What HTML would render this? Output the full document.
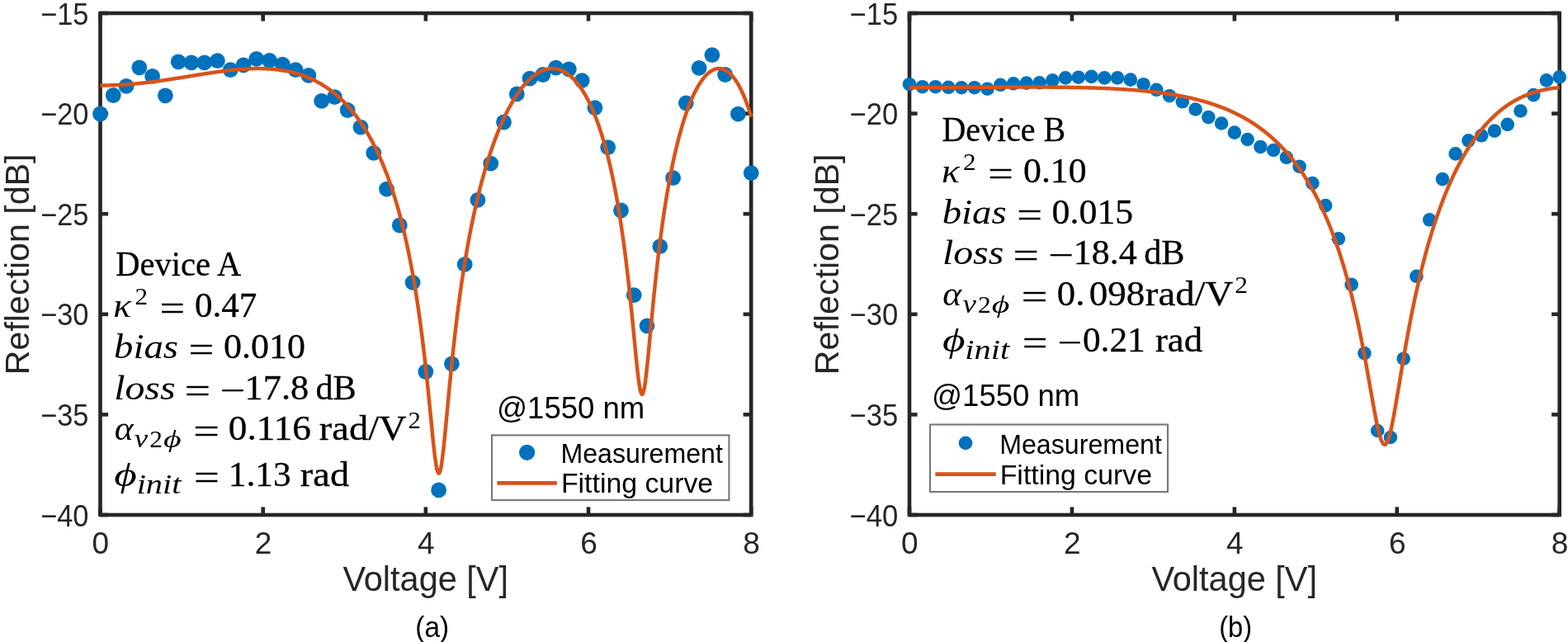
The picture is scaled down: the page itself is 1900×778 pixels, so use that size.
<!DOCTYPE html>
<html><head><meta charset="utf-8"><title>Reflection vs Voltage</title>
<style>html,body{margin:0;padding:0;background:#fff;width:1900px;height:778px;overflow:hidden}svg{display:block}</style>
</head><body>
<svg width="1900" height="778" viewBox="0 0 1900 778">
<rect width="1900" height="778" fill="#fff"/>
<g stroke="#262626" stroke-width="4.6"><line x1="121.50" y1="624.00" x2="121.50" y2="614.40"/><line x1="121.50" y1="16.00" x2="121.50" y2="25.60"/><line x1="318.68" y1="624.00" x2="318.68" y2="614.40"/><line x1="318.68" y1="16.00" x2="318.68" y2="25.60"/><line x1="515.85" y1="624.00" x2="515.85" y2="614.40"/><line x1="515.85" y1="16.00" x2="515.85" y2="25.60"/><line x1="713.03" y1="624.00" x2="713.03" y2="614.40"/><line x1="713.03" y1="16.00" x2="713.03" y2="25.60"/><line x1="910.20" y1="624.00" x2="910.20" y2="614.40"/><line x1="910.20" y1="16.00" x2="910.20" y2="25.60"/><line x1="121.50" y1="16.00" x2="131.10" y2="16.00"/><line x1="910.20" y1="16.00" x2="900.60" y2="16.00"/><line x1="121.50" y1="137.60" x2="131.10" y2="137.60"/><line x1="910.20" y1="137.60" x2="900.60" y2="137.60"/><line x1="121.50" y1="259.20" x2="131.10" y2="259.20"/><line x1="910.20" y1="259.20" x2="900.60" y2="259.20"/><line x1="121.50" y1="380.80" x2="131.10" y2="380.80"/><line x1="910.20" y1="380.80" x2="900.60" y2="380.80"/><line x1="121.50" y1="502.40" x2="131.10" y2="502.40"/><line x1="910.20" y1="502.40" x2="900.60" y2="502.40"/><line x1="121.50" y1="624.00" x2="131.10" y2="624.00"/><line x1="910.20" y1="624.00" x2="900.60" y2="624.00"/></g><rect x="121.50" y="16.00" width="788.70" height="608.00" fill="none" stroke="#262626" stroke-width="4.6"/><g font-family="Liberation Sans, sans-serif" font-size="37" fill="#262626"><text x="121.90" y="670.6" text-anchor="middle">0</text><text x="319.07" y="670.6" text-anchor="middle">2</text><text x="516.25" y="670.6" text-anchor="middle">4</text><text x="713.43" y="670.6" text-anchor="middle">6</text><text x="910.60" y="670.6" text-anchor="middle">8</text></g>
<g stroke="#262626" stroke-width="4.6"><line x1="1102.00" y1="624.00" x2="1102.00" y2="614.40"/><line x1="1102.00" y1="16.00" x2="1102.00" y2="25.60"/><line x1="1298.92" y1="624.00" x2="1298.92" y2="614.40"/><line x1="1298.92" y1="16.00" x2="1298.92" y2="25.60"/><line x1="1495.85" y1="624.00" x2="1495.85" y2="614.40"/><line x1="1495.85" y1="16.00" x2="1495.85" y2="25.60"/><line x1="1692.78" y1="624.00" x2="1692.78" y2="614.40"/><line x1="1692.78" y1="16.00" x2="1692.78" y2="25.60"/><line x1="1889.70" y1="624.00" x2="1889.70" y2="614.40"/><line x1="1889.70" y1="16.00" x2="1889.70" y2="25.60"/><line x1="1102.00" y1="16.00" x2="1111.60" y2="16.00"/><line x1="1889.70" y1="16.00" x2="1880.10" y2="16.00"/><line x1="1102.00" y1="137.60" x2="1111.60" y2="137.60"/><line x1="1889.70" y1="137.60" x2="1880.10" y2="137.60"/><line x1="1102.00" y1="259.20" x2="1111.60" y2="259.20"/><line x1="1889.70" y1="259.20" x2="1880.10" y2="259.20"/><line x1="1102.00" y1="380.80" x2="1111.60" y2="380.80"/><line x1="1889.70" y1="380.80" x2="1880.10" y2="380.80"/><line x1="1102.00" y1="502.40" x2="1111.60" y2="502.40"/><line x1="1889.70" y1="502.40" x2="1880.10" y2="502.40"/><line x1="1102.00" y1="624.00" x2="1111.60" y2="624.00"/><line x1="1889.70" y1="624.00" x2="1880.10" y2="624.00"/></g><rect x="1102.00" y="16.00" width="787.70" height="608.00" fill="none" stroke="#262626" stroke-width="4.6"/><g font-family="Liberation Sans, sans-serif" font-size="37" fill="#262626"><text x="1102.40" y="670.6" text-anchor="middle">0</text><text x="1299.33" y="670.6" text-anchor="middle">2</text><text x="1496.25" y="670.6" text-anchor="middle">4</text><text x="1693.18" y="670.6" text-anchor="middle">6</text><text x="1890.10" y="670.6" text-anchor="middle">8</text></g>
<g fill="#0072BD"><circle cx="121.50" cy="138.00" r="9.4"/><circle cx="137.27" cy="115.50" r="9.4"/><circle cx="153.05" cy="104.40" r="9.4"/><circle cx="168.82" cy="81.80" r="9.4"/><circle cx="184.60" cy="92.40" r="9.4"/><circle cx="200.37" cy="115.80" r="9.4"/><circle cx="216.14" cy="74.80" r="9.4"/><circle cx="231.92" cy="75.90" r="9.4"/><circle cx="247.69" cy="75.90" r="9.4"/><circle cx="263.47" cy="73.70" r="9.4"/><circle cx="279.24" cy="84.70" r="9.4"/><circle cx="295.01" cy="78.80" r="9.4"/><circle cx="310.79" cy="71.40" r="9.4"/><circle cx="326.56" cy="73.40" r="9.4"/><circle cx="342.34" cy="78.10" r="9.4"/><circle cx="358.11" cy="84.70" r="9.4"/><circle cx="373.88" cy="91.40" r="9.4"/><circle cx="389.66" cy="122.40" r="9.4"/><circle cx="405.43" cy="117.70" r="9.4"/><circle cx="421.21" cy="133.50" r="9.4"/><circle cx="436.98" cy="154.20" r="9.4"/><circle cx="452.75" cy="185.40" r="9.4"/><circle cx="468.53" cy="229.10" r="9.4"/><circle cx="484.30" cy="273.00" r="9.4"/><circle cx="500.08" cy="342.30" r="9.4"/><circle cx="515.85" cy="450.50" r="9.4"/><circle cx="531.62" cy="593.90" r="9.4"/><circle cx="547.40" cy="440.80" r="9.4"/><circle cx="563.17" cy="320.30" r="9.4"/><circle cx="578.95" cy="242.40" r="9.4"/><circle cx="594.72" cy="198.10" r="9.4"/><circle cx="610.49" cy="148.00" r="9.4"/><circle cx="626.27" cy="113.90" r="9.4"/><circle cx="642.04" cy="95.20" r="9.4"/><circle cx="657.82" cy="90.50" r="9.4"/><circle cx="673.59" cy="82.10" r="9.4"/><circle cx="689.36" cy="83.80" r="9.4"/><circle cx="705.14" cy="97.60" r="9.4"/><circle cx="720.91" cy="130.70" r="9.4"/><circle cx="736.69" cy="178.60" r="9.4"/><circle cx="752.46" cy="255.00" r="9.4"/><circle cx="768.23" cy="357.60" r="9.4"/><circle cx="784.01" cy="394.80" r="9.4"/><circle cx="799.78" cy="298.70" r="9.4"/><circle cx="815.56" cy="215.70" r="9.4"/><circle cx="831.33" cy="124.80" r="9.4"/><circle cx="847.10" cy="82.40" r="9.4"/><circle cx="862.88" cy="66.70" r="9.4"/><circle cx="878.65" cy="90.50" r="9.4"/><circle cx="894.43" cy="138.20" r="9.4"/><circle cx="910.20" cy="209.60" r="9.4"/></g>
<path d="M121.50 103.52 L121.99 103.52 L122.49 103.52 L122.98 103.52 L123.47 103.52 L123.96 103.51 L124.46 103.51 L124.95 103.51 L125.44 103.50 L125.94 103.50 L126.43 103.49 L126.92 103.49 L127.42 103.48 L127.91 103.47 L128.40 103.46 L128.89 103.46 L129.39 103.45 L129.88 103.44 L130.37 103.43 L130.87 103.42 L131.36 103.41 L131.85 103.40 L132.34 103.38 L132.84 103.37 L133.33 103.36 L133.82 103.35 L134.32 103.33 L134.81 103.32 L135.30 103.30 L135.80 103.28 L136.29 103.27 L136.78 103.25 L137.27 103.23 L137.77 103.22 L138.26 103.20 L138.75 103.18 L139.25 103.16 L139.74 103.14 L140.23 103.12 L140.72 103.10 L141.22 103.07 L141.71 103.05 L142.20 103.03 L142.70 103.01 L143.19 102.98 L143.68 102.96 L144.18 102.93 L144.67 102.91 L145.16 102.88 L145.65 102.85 L146.15 102.83 L146.64 102.80 L147.13 102.77 L147.63 102.74 L148.12 102.71 L148.61 102.68 L149.10 102.65 L149.60 102.62 L150.09 102.59 L150.58 102.56 L151.08 102.52 L151.57 102.49 L152.06 102.46 L152.56 102.42 L153.05 102.39 L153.54 102.35 L154.03 102.32 L154.53 102.28 L155.02 102.25 L155.51 102.21 L156.01 102.17 L156.50 102.13 L156.99 102.10 L157.48 102.06 L157.98 102.02 L158.47 101.98 L158.96 101.94 L159.46 101.90 L159.95 101.85 L160.44 101.81 L160.94 101.77 L161.43 101.73 L161.92 101.68 L162.41 101.64 L162.91 101.59 L163.40 101.55 L163.89 101.50 L164.39 101.46 L164.88 101.41 L165.37 101.37 L165.86 101.32 L166.36 101.27 L166.85 101.22 L167.34 101.17 L167.84 101.13 L168.33 101.08 L168.82 101.03 L169.31 100.98 L169.81 100.93 L170.30 100.87 L170.79 100.82 L171.29 100.77 L171.78 100.72 L172.27 100.66 L172.77 100.61 L173.26 100.56 L173.75 100.50 L174.24 100.45 L174.74 100.39 L175.23 100.34 L175.72 100.28 L176.22 100.23 L176.71 100.17 L177.20 100.11 L177.69 100.05 L178.19 100.00 L178.68 99.94 L179.17 99.88 L179.67 99.82 L180.16 99.76 L180.65 99.70 L181.15 99.64 L181.64 99.58 L182.13 99.52 L182.62 99.46 L183.12 99.40 L183.61 99.33 L184.10 99.27 L184.60 99.21 L185.09 99.14 L185.58 99.08 L186.07 99.02 L186.57 98.95 L187.06 98.89 L187.55 98.82 L188.05 98.76 L188.54 98.69 L189.03 98.63 L189.53 98.56 L190.02 98.49 L190.51 98.43 L191.00 98.36 L191.50 98.29 L191.99 98.22 L192.48 98.15 L192.98 98.09 L193.47 98.02 L193.96 97.95 L194.45 97.88 L194.95 97.81 L195.44 97.74 L195.93 97.67 L196.43 97.60 L196.92 97.53 L197.41 97.45 L197.91 97.38 L198.40 97.31 L198.89 97.24 L199.38 97.17 L199.88 97.09 L200.37 97.02 L200.86 96.95 L201.36 96.88 L201.85 96.80 L202.34 96.73 L202.83 96.65 L203.33 96.58 L203.82 96.50 L204.31 96.43 L204.81 96.36 L205.30 96.28 L205.79 96.20 L206.29 96.13 L206.78 96.05 L207.27 95.98 L207.76 95.90 L208.26 95.82 L208.75 95.75 L209.24 95.67 L209.74 95.59 L210.23 95.52 L210.72 95.44 L211.21 95.36 L211.71 95.28 L212.20 95.21 L212.69 95.13 L213.19 95.05 L213.68 94.97 L214.17 94.89 L214.67 94.81 L215.16 94.74 L215.65 94.66 L216.14 94.58 L216.64 94.50 L217.13 94.42 L217.62 94.34 L218.12 94.26 L218.61 94.18 L219.10 94.10 L219.59 94.02 L220.09 93.94 L220.58 93.86 L221.07 93.78 L221.57 93.70 L222.06 93.62 L222.55 93.54 L223.05 93.46 L223.54 93.38 L224.03 93.30 L224.52 93.22 L225.02 93.14 L225.51 93.06 L226.00 92.98 L226.50 92.90 L226.99 92.82 L227.48 92.74 L227.97 92.65 L228.47 92.57 L228.96 92.49 L229.45 92.41 L229.95 92.33 L230.44 92.25 L230.93 92.17 L231.43 92.09 L231.92 92.01 L232.41 91.93 L232.90 91.85 L233.40 91.77 L233.89 91.68 L234.38 91.60 L234.88 91.52 L235.37 91.44 L235.86 91.36 L236.35 91.28 L236.85 91.20 L237.34 91.12 L237.83 91.04 L238.33 90.96 L238.82 90.88 L239.31 90.80 L239.81 90.72 L240.30 90.64 L240.79 90.56 L241.28 90.48 L241.78 90.40 L242.27 90.32 L242.76 90.24 L243.26 90.16 L243.75 90.08 L244.24 90.01 L244.73 89.93 L245.23 89.85 L245.72 89.77 L246.21 89.69 L246.71 89.61 L247.20 89.54 L247.69 89.46 L248.18 89.38 L248.68 89.30 L249.17 89.23 L249.66 89.15 L250.16 89.07 L250.65 89.00 L251.14 88.92 L251.64 88.84 L252.13 88.77 L252.62 88.69 L253.11 88.62 L253.61 88.54 L254.10 88.47 L254.59 88.39 L255.09 88.32 L255.58 88.24 L256.07 88.17 L256.56 88.10 L257.06 88.02 L257.55 87.95 L258.04 87.88 L258.54 87.80 L259.03 87.73 L259.52 87.66 L260.02 87.59 L260.51 87.52 L261.00 87.45 L261.49 87.38 L261.99 87.31 L262.48 87.24 L262.97 87.17 L263.47 87.10 L263.96 87.03 L264.45 86.96 L264.94 86.89 L265.44 86.82 L265.93 86.76 L266.42 86.69 L266.92 86.62 L267.41 86.56 L267.90 86.49 L268.40 86.43 L268.89 86.36 L269.38 86.30 L269.87 86.23 L270.37 86.17 L270.86 86.11 L271.35 86.04 L271.85 85.98 L272.34 85.92 L272.83 85.86 L273.32 85.80 L273.82 85.74 L274.31 85.68 L274.80 85.62 L275.30 85.56 L275.79 85.50 L276.28 85.44 L276.78 85.39 L277.27 85.33 L277.76 85.27 L278.25 85.22 L278.75 85.16 L279.24 85.11 L279.73 85.05 L280.23 85.00 L280.72 84.95 L281.21 84.90 L281.70 84.84 L282.20 84.79 L282.69 84.74 L283.18 84.69 L283.68 84.64 L284.17 84.60 L284.66 84.55 L285.16 84.50 L285.65 84.45 L286.14 84.41 L286.63 84.36 L287.13 84.32 L287.62 84.27 L288.11 84.23 L288.61 84.19 L289.10 84.14 L289.59 84.10 L290.08 84.06 L290.58 84.02 L291.07 83.98 L291.56 83.95 L292.06 83.91 L292.55 83.87 L293.04 83.83 L293.54 83.80 L294.03 83.76 L294.52 83.73 L295.01 83.70 L295.51 83.66 L296.00 83.63 L296.49 83.60 L296.99 83.57 L297.48 83.54 L297.97 83.51 L298.46 83.49 L298.96 83.46 L299.45 83.43 L299.94 83.41 L300.44 83.38 L300.93 83.36 L301.42 83.34 L301.92 83.32 L302.41 83.30 L302.90 83.28 L303.39 83.26 L303.89 83.24 L304.38 83.22 L304.87 83.20 L305.37 83.19 L305.86 83.18 L306.35 83.16 L306.84 83.15 L307.34 83.14 L307.83 83.13 L308.32 83.12 L308.82 83.11 L309.31 83.10 L309.80 83.09 L310.30 83.09 L310.79 83.08 L311.28 83.08 L311.77 83.08 L312.27 83.08 L312.76 83.08 L313.25 83.08 L313.75 83.08 L314.24 83.08 L314.73 83.09 L315.22 83.09 L315.72 83.10 L316.21 83.10 L316.70 83.11 L317.20 83.12 L317.69 83.13 L318.18 83.14 L318.68 83.16 L319.17 83.17 L319.66 83.18 L320.15 83.20 L320.65 83.22 L321.14 83.24 L321.63 83.26 L322.13 83.28 L322.62 83.30 L323.11 83.32 L323.60 83.35 L324.10 83.37 L324.59 83.40 L325.08 83.43 L325.58 83.46 L326.07 83.49 L326.56 83.52 L327.05 83.56 L327.55 83.59 L328.04 83.63 L328.53 83.67 L329.03 83.70 L329.52 83.74 L330.01 83.79 L330.51 83.83 L331.00 83.87 L331.49 83.92 L331.98 83.97 L332.48 84.01 L332.97 84.06 L333.46 84.12 L333.96 84.17 L334.45 84.22 L334.94 84.28 L335.43 84.34 L335.93 84.39 L336.42 84.45 L336.91 84.52 L337.41 84.58 L337.90 84.64 L338.39 84.71 L338.89 84.78 L339.38 84.85 L339.87 84.92 L340.36 84.99 L340.86 85.06 L341.35 85.14 L341.84 85.22 L342.34 85.29 L342.83 85.37 L343.32 85.46 L343.81 85.54 L344.31 85.63 L344.80 85.71 L345.29 85.80 L345.79 85.89 L346.28 85.98 L346.77 86.08 L347.27 86.17 L347.76 86.27 L348.25 86.37 L348.74 86.47 L349.24 86.57 L349.73 86.67 L350.22 86.78 L350.72 86.89 L351.21 87.00 L351.70 87.11 L352.19 87.22 L352.69 87.34 L353.18 87.45 L353.67 87.57 L354.17 87.69 L354.66 87.81 L355.15 87.94 L355.65 88.07 L356.14 88.19 L356.63 88.32 L357.12 88.46 L357.62 88.59 L358.11 88.73 L358.60 88.86 L359.10 89.00 L359.59 89.15 L360.08 89.29 L360.57 89.44 L361.07 89.58 L361.56 89.73 L362.05 89.89 L362.55 90.04 L363.04 90.20 L363.53 90.36 L364.03 90.52 L364.52 90.68 L365.01 90.84 L365.50 91.01 L366.00 91.18 L366.49 91.35 L366.98 91.53 L367.48 91.70 L367.97 91.88 L368.46 92.06 L368.95 92.24 L369.45 92.43 L369.94 92.62 L370.43 92.81 L370.93 93.00 L371.42 93.19 L371.91 93.39 L372.41 93.59 L372.90 93.79 L373.39 94.00 L373.88 94.20 L374.38 94.41 L374.87 94.62 L375.36 94.84 L375.86 95.05 L376.35 95.27 L376.84 95.49 L377.33 95.72 L377.83 95.94 L378.32 96.17 L378.81 96.40 L379.31 96.64 L379.80 96.88 L380.29 97.12 L380.79 97.36 L381.28 97.60 L381.77 97.85 L382.26 98.10 L382.76 98.35 L383.25 98.61 L383.74 98.87 L384.24 99.13 L384.73 99.39 L385.22 99.66 L385.71 99.93 L386.21 100.20 L386.70 100.48 L387.19 100.76 L387.69 101.04 L388.18 101.32 L388.67 101.61 L389.17 101.90 L389.66 102.20 L390.15 102.49 L390.64 102.79 L391.14 103.09 L391.63 103.40 L392.12 103.71 L392.62 104.02 L393.11 104.34 L393.60 104.65 L394.09 104.98 L394.59 105.30 L395.08 105.63 L395.57 105.96 L396.07 106.29 L396.56 106.63 L397.05 106.97 L397.55 107.32 L398.04 107.67 L398.53 108.02 L399.02 108.37 L399.52 108.73 L400.01 109.09 L400.50 109.46 L401.00 109.82 L401.49 110.20 L401.98 110.57 L402.47 110.95 L402.97 111.33 L403.46 111.72 L403.95 112.11 L404.45 112.51 L404.94 112.90 L405.43 113.30 L405.92 113.71 L406.42 114.12 L406.91 114.53 L407.40 114.95 L407.90 115.37 L408.39 115.79 L408.88 116.22 L409.38 116.65 L409.87 117.09 L410.36 117.53 L410.85 117.98 L411.35 118.43 L411.84 118.88 L412.33 119.34 L412.83 119.80 L413.32 120.26 L413.81 120.73 L414.30 121.21 L414.80 121.68 L415.29 122.17 L415.78 122.65 L416.28 123.15 L416.77 123.64 L417.26 124.14 L417.76 124.65 L418.25 125.16 L418.74 125.67 L419.23 126.19 L419.73 126.71 L420.22 127.24 L420.71 127.78 L421.21 128.31 L421.70 128.86 L422.19 129.40 L422.68 129.96 L423.18 130.51 L423.67 131.08 L424.16 131.64 L424.66 132.22 L425.15 132.80 L425.64 133.38 L426.14 133.97 L426.63 134.56 L427.12 135.16 L427.61 135.76 L428.11 136.37 L428.60 136.99 L429.09 137.61 L429.59 138.23 L430.08 138.86 L430.57 139.50 L431.06 140.14 L431.56 140.79 L432.05 141.45 L432.54 142.11 L433.04 142.77 L433.53 143.45 L434.02 144.12 L434.52 144.81 L435.01 145.50 L435.50 146.19 L435.99 146.90 L436.49 147.60 L436.98 148.32 L437.47 149.04 L437.97 149.77 L438.46 150.50 L438.95 151.24 L439.44 151.99 L439.94 152.74 L440.43 153.51 L440.92 154.27 L441.42 155.05 L441.91 155.83 L442.40 156.62 L442.90 157.41 L443.39 158.22 L443.88 159.03 L444.37 159.84 L444.87 160.67 L445.36 161.50 L445.85 162.34 L446.35 163.19 L446.84 164.04 L447.33 164.90 L447.82 165.77 L448.32 166.65 L448.81 167.54 L449.30 168.43 L449.80 169.34 L450.29 170.25 L450.78 171.17 L451.28 172.09 L451.77 173.03 L452.26 173.98 L452.75 174.93 L453.25 175.89 L453.74 176.86 L454.23 177.84 L454.73 178.83 L455.22 179.83 L455.71 180.84 L456.20 181.85 L456.70 182.88 L457.19 183.92 L457.68 184.96 L458.18 186.02 L458.67 187.09 L459.16 188.16 L459.66 189.25 L460.15 190.34 L460.64 191.45 L461.13 192.57 L461.63 193.70 L462.12 194.84 L462.61 195.99 L463.11 197.15 L463.60 198.32 L464.09 199.50 L464.58 200.70 L465.08 201.91 L465.57 203.13 L466.06 204.36 L466.56 205.60 L467.05 206.86 L467.54 208.12 L468.04 209.40 L468.53 210.70 L469.02 212.00 L469.51 213.32 L470.01 214.66 L470.50 216.00 L470.99 217.36 L471.49 218.74 L471.98 220.13 L472.47 221.53 L472.96 222.95 L473.46 224.38 L473.95 225.82 L474.44 227.29 L474.94 228.76 L475.43 230.26 L475.92 231.76 L476.42 233.29 L476.91 234.83 L477.40 236.39 L477.89 237.96 L478.39 239.55 L478.88 241.16 L479.37 242.79 L479.87 244.43 L480.36 246.10 L480.85 247.78 L481.34 249.48 L481.84 251.20 L482.33 252.94 L482.82 254.69 L483.32 256.47 L483.81 258.27 L484.30 260.09 L484.79 261.93 L485.29 263.80 L485.78 265.68 L486.27 267.59 L486.77 269.52 L487.26 271.47 L487.75 273.44 L488.25 275.44 L488.74 277.47 L489.23 279.52 L489.72 281.59 L490.22 283.69 L490.71 285.82 L491.20 287.97 L491.70 290.15 L492.19 292.36 L492.68 294.59 L493.17 296.86 L493.67 299.15 L494.16 301.48 L494.65 303.83 L495.15 306.22 L495.64 308.64 L496.13 311.09 L496.63 313.57 L497.12 316.09 L497.61 318.64 L498.10 321.23 L498.60 323.85 L499.09 326.51 L499.58 329.21 L500.08 331.95 L500.57 334.73 L501.06 337.54 L501.55 340.40 L502.05 343.30 L502.54 346.24 L503.03 349.23 L503.53 352.26 L504.02 355.33 L504.51 358.46 L505.01 361.63 L505.50 364.85 L505.99 368.11 L506.48 371.43 L506.98 374.80 L507.47 378.23 L507.96 381.71 L508.46 385.24 L508.95 388.83 L509.44 392.47 L509.93 396.18 L510.43 399.94 L510.92 403.77 L511.41 407.65 L511.91 411.60 L512.40 415.61 L512.89 419.68 L513.39 423.82 L513.88 428.02 L514.37 432.29 L514.86 436.62 L515.36 441.02 L515.85 445.48 L516.34 450.01 L516.84 454.60 L517.33 459.25 L517.82 463.96 L518.31 468.73 L518.81 473.55 L519.30 478.42 L519.79 483.33 L520.29 488.29 L520.78 493.27 L521.27 498.28 L521.77 503.30 L522.26 508.33 L522.75 513.34 L523.24 518.32 L523.74 523.26 L524.23 528.14 L524.72 532.93 L525.22 537.60 L525.71 542.14 L526.20 546.51 L526.69 550.68 L527.19 554.61 L527.68 558.26 L528.17 561.62 L528.67 564.62 L529.16 567.25 L529.65 569.47 L530.15 571.25 L530.64 572.56 L531.13 573.38 L531.62 573.71 L532.12 573.53 L532.61 572.84 L533.10 571.65 L533.60 569.99 L534.09 567.86 L534.58 565.29 L535.07 562.32 L535.57 558.99 L536.06 555.31 L536.55 551.34 L537.05 547.10 L537.54 542.63 L538.03 537.97 L538.53 533.15 L539.02 528.20 L539.51 523.14 L540.00 517.99 L540.50 512.79 L540.99 507.55 L541.48 502.28 L541.98 497.00 L542.47 491.73 L542.96 486.48 L543.45 481.25 L543.95 476.05 L544.44 470.90 L544.93 465.79 L545.43 460.73 L545.92 455.73 L546.41 450.78 L546.91 445.90 L547.40 441.08 L547.89 436.32 L548.38 431.62 L548.88 426.99 L549.37 422.43 L549.86 417.93 L550.36 413.50 L550.85 409.13 L551.34 404.83 L551.83 400.59 L552.33 396.41 L552.82 392.30 L553.31 388.24 L553.81 384.25 L554.30 380.32 L554.79 376.44 L555.29 372.63 L555.78 368.87 L556.27 365.16 L556.76 361.51 L557.26 357.92 L557.75 354.37 L558.24 350.88 L558.74 347.43 L559.23 344.04 L559.72 340.69 L560.21 337.39 L560.71 334.14 L561.20 330.93 L561.69 327.76 L562.19 324.64 L562.68 321.57 L563.17 318.53 L563.66 315.53 L564.16 312.58 L564.65 309.66 L565.14 306.78 L565.64 303.94 L566.13 301.13 L566.62 298.36 L567.12 295.63 L567.61 292.93 L568.10 290.27 L568.59 287.63 L569.09 285.04 L569.58 282.47 L570.07 279.93 L570.57 277.43 L571.06 274.95 L571.55 272.51 L572.04 270.09 L572.54 267.71 L573.03 265.35 L573.52 263.02 L574.02 260.71 L574.51 258.43 L575.00 256.18 L575.50 253.96 L575.99 251.76 L576.48 249.58 L576.97 247.43 L577.47 245.30 L577.96 243.20 L578.45 241.12 L578.95 239.07 L579.44 237.03 L579.93 235.02 L580.42 233.03 L580.92 231.06 L581.41 229.11 L581.90 227.19 L582.40 225.28 L582.89 223.40 L583.38 221.53 L583.88 219.69 L584.37 217.86 L584.86 216.05 L585.35 214.27 L585.85 212.50 L586.34 210.75 L586.83 209.01 L587.33 207.30 L587.82 205.60 L588.31 203.92 L588.80 202.26 L589.30 200.61 L589.79 198.99 L590.28 197.37 L590.78 195.78 L591.27 194.20 L591.76 192.63 L592.26 191.09 L592.75 189.55 L593.24 188.04 L593.73 186.54 L594.23 185.05 L594.72 183.58 L595.21 182.12 L595.71 180.68 L596.20 179.25 L596.69 177.84 L597.18 176.44 L597.68 175.06 L598.17 173.68 L598.66 172.33 L599.16 170.98 L599.65 169.65 L600.14 168.33 L600.64 167.03 L601.13 165.74 L601.62 164.46 L602.11 163.19 L602.61 161.94 L603.10 160.70 L603.59 159.47 L604.09 158.26 L604.58 157.05 L605.07 155.86 L605.56 154.68 L606.06 153.52 L606.55 152.36 L607.04 151.22 L607.54 150.09 L608.03 148.97 L608.52 147.86 L609.02 146.76 L609.51 145.67 L610.00 144.60 L610.49 143.53 L610.99 142.48 L611.48 141.44 L611.97 140.41 L612.47 139.39 L612.96 138.38 L613.45 137.38 L613.94 136.39 L614.44 135.41 L614.93 134.44 L615.42 133.48 L615.92 132.54 L616.41 131.60 L616.90 130.67 L617.40 129.76 L617.89 128.85 L618.38 127.95 L618.87 127.07 L619.37 126.19 L619.86 125.32 L620.35 124.47 L620.85 123.62 L621.34 122.78 L621.83 121.95 L622.32 121.14 L622.82 120.33 L623.31 119.53 L623.80 118.74 L624.30 117.96 L624.79 117.19 L625.28 116.42 L625.78 115.67 L626.27 114.93 L626.76 114.19 L627.25 113.47 L627.75 112.75 L628.24 112.04 L628.73 111.35 L629.23 110.66 L629.72 109.98 L630.21 109.31 L630.70 108.64 L631.20 107.99 L631.69 107.35 L632.18 106.71 L632.68 106.08 L633.17 105.46 L633.66 104.86 L634.16 104.25 L634.65 103.66 L635.14 103.08 L635.63 102.50 L636.13 101.94 L636.62 101.38 L637.11 100.83 L637.61 100.29 L638.10 99.76 L638.59 99.24 L639.08 98.72 L639.58 98.21 L640.07 97.72 L640.56 97.23 L641.06 96.75 L641.55 96.27 L642.04 95.81 L642.53 95.35 L643.03 94.91 L643.52 94.47 L644.01 94.04 L644.51 93.61 L645.00 93.20 L645.49 92.79 L645.99 92.40 L646.48 92.01 L646.97 91.62 L647.46 91.25 L647.96 90.89 L648.45 90.53 L648.94 90.18 L649.44 89.84 L649.93 89.51 L650.42 89.19 L650.91 88.88 L651.41 88.57 L651.90 88.27 L652.39 87.98 L652.89 87.70 L653.38 87.43 L653.87 87.16 L654.37 86.90 L654.86 86.65 L655.35 86.41 L655.84 86.18 L656.34 85.96 L656.83 85.74 L657.32 85.54 L657.82 85.34 L658.31 85.15 L658.80 84.96 L659.29 84.79 L659.79 84.62 L660.28 84.47 L660.77 84.32 L661.27 84.18 L661.76 84.04 L662.25 83.92 L662.75 83.81 L663.24 83.70 L663.73 83.60 L664.22 83.51 L664.72 83.43 L665.21 83.35 L665.70 83.29 L666.20 83.23 L666.69 83.19 L667.18 83.15 L667.67 83.12 L668.17 83.09 L668.66 83.08 L669.15 83.08 L669.65 83.08 L670.14 83.09 L670.63 83.11 L671.13 83.14 L671.62 83.18 L672.11 83.23 L672.60 83.29 L673.10 83.35 L673.59 83.43 L674.08 83.51 L674.58 83.60 L675.07 83.70 L675.56 83.81 L676.05 83.93 L676.55 84.06 L677.04 84.20 L677.53 84.34 L678.03 84.50 L678.52 84.66 L679.01 84.83 L679.51 85.02 L680.00 85.21 L680.49 85.41 L680.98 85.62 L681.48 85.84 L681.97 86.07 L682.46 86.31 L682.96 86.56 L683.45 86.82 L683.94 87.09 L684.43 87.36 L684.93 87.65 L685.42 87.95 L685.91 88.26 L686.41 88.57 L686.90 88.90 L687.39 89.24 L687.89 89.58 L688.38 89.94 L688.87 90.31 L689.36 90.68 L689.86 91.07 L690.35 91.47 L690.84 91.88 L691.34 92.30 L691.83 92.73 L692.32 93.17 L692.81 93.62 L693.31 94.08 L693.80 94.55 L694.29 95.03 L694.79 95.53 L695.28 96.03 L695.77 96.55 L696.27 97.08 L696.76 97.61 L697.25 98.16 L697.74 98.73 L698.24 99.30 L698.73 99.88 L699.22 100.48 L699.72 101.09 L700.21 101.71 L700.70 102.34 L701.19 102.98 L701.69 103.64 L702.18 104.30 L702.67 104.98 L703.17 105.68 L703.66 106.38 L704.15 107.10 L704.65 107.83 L705.14 108.57 L705.63 109.33 L706.12 110.10 L706.62 110.88 L707.11 111.67 L707.60 112.48 L708.10 113.31 L708.59 114.14 L709.08 114.99 L709.57 115.85 L710.07 116.73 L710.56 117.62 L711.05 118.53 L711.55 119.45 L712.04 120.39 L712.53 121.34 L713.03 122.30 L713.52 123.28 L714.01 124.28 L714.50 125.29 L715.00 126.32 L715.49 127.36 L715.98 128.42 L716.48 129.49 L716.97 130.58 L717.46 131.69 L717.95 132.81 L718.45 133.95 L718.94 135.11 L719.43 136.29 L719.93 137.48 L720.42 138.69 L720.91 139.92 L721.40 141.16 L721.90 142.43 L722.39 143.71 L722.88 145.01 L723.38 146.33 L723.87 147.67 L724.36 149.03 L724.86 150.41 L725.35 151.81 L725.84 153.23 L726.33 154.67 L726.83 156.13 L727.32 157.61 L727.81 159.12 L728.31 160.64 L728.80 162.19 L729.29 163.76 L729.78 165.35 L730.28 166.97 L730.77 168.61 L731.26 170.27 L731.76 171.96 L732.25 173.67 L732.74 175.41 L733.24 177.17 L733.73 178.96 L734.22 180.78 L734.71 182.62 L735.21 184.49 L735.70 186.38 L736.19 188.31 L736.69 190.26 L737.18 192.24 L737.67 194.26 L738.16 196.30 L738.66 198.37 L739.15 200.47 L739.64 202.61 L740.14 204.77 L740.63 206.97 L741.12 209.21 L741.62 211.48 L742.11 213.78 L742.60 216.12 L743.09 218.49 L743.59 220.90 L744.08 223.35 L744.57 225.84 L745.07 228.36 L745.56 230.93 L746.05 233.54 L746.54 236.18 L747.04 238.88 L747.53 241.61 L748.02 244.39 L748.52 247.21 L749.01 250.08 L749.50 252.99 L750.00 255.96 L750.49 258.97 L750.98 262.03 L751.47 265.15 L751.97 268.31 L752.46 271.53 L752.95 274.80 L753.45 278.13 L753.94 281.52 L754.43 284.96 L754.92 288.46 L755.42 292.02 L755.91 295.64 L756.40 299.33 L756.90 303.07 L757.39 306.88 L757.88 310.76 L758.38 314.70 L758.87 318.71 L759.36 322.79 L759.85 326.93 L760.35 331.15 L760.84 335.43 L761.33 339.78 L761.83 344.21 L762.32 348.70 L762.81 353.26 L763.30 357.89 L763.80 362.58 L764.29 367.34 L764.78 372.16 L765.28 377.03 L765.77 381.96 L766.26 386.94 L766.76 391.96 L767.25 397.02 L767.74 402.10 L768.23 407.20 L768.73 412.30 L769.22 417.39 L769.71 422.46 L770.21 427.47 L770.70 432.43 L771.19 437.29 L771.68 442.03 L772.18 446.63 L772.67 451.05 L773.16 455.25 L773.66 459.21 L774.15 462.89 L774.64 466.24 L775.14 469.23 L775.63 471.82 L776.12 473.99 L776.61 475.69 L777.11 476.90 L777.60 477.62 L778.09 477.81 L778.59 477.49 L779.08 476.65 L779.57 475.31 L780.06 473.48 L780.56 471.18 L781.05 468.46 L781.54 465.34 L782.04 461.85 L782.53 458.04 L783.02 453.94 L783.52 449.59 L784.01 445.02 L784.50 440.28 L784.99 435.39 L785.49 430.38 L785.98 425.28 L786.47 420.11 L786.97 414.89 L787.46 409.65 L787.95 404.39 L788.44 399.14 L788.94 393.90 L789.43 388.69 L789.92 383.52 L790.42 378.39 L790.91 373.30 L791.40 368.27 L791.89 363.30 L792.39 358.39 L792.88 353.54 L793.37 348.76 L793.87 344.05 L794.36 339.40 L794.85 334.83 L795.35 330.33 L795.84 325.89 L796.33 321.53 L796.82 317.24 L797.32 313.01 L797.81 308.86 L798.30 304.77 L798.80 300.75 L799.29 296.79 L799.78 292.90 L800.27 289.08 L800.77 285.32 L801.26 281.61 L801.75 277.97 L802.25 274.39 L802.74 270.87 L803.23 267.41 L803.73 264.00 L804.22 260.65 L804.71 257.35 L805.20 254.10 L805.70 250.91 L806.19 247.77 L806.68 244.68 L807.18 241.63 L807.67 238.64 L808.16 235.69 L808.65 232.79 L809.15 229.94 L809.64 227.12 L810.13 224.36 L810.63 221.63 L811.12 218.95 L811.61 216.31 L812.11 213.71 L812.60 211.15 L813.09 208.62 L813.58 206.14 L814.08 203.69 L814.57 201.29 L815.06 198.91 L815.56 196.58 L816.05 194.27 L816.54 192.01 L817.03 189.77 L817.53 187.57 L818.02 185.41 L818.51 183.27 L819.01 181.17 L819.50 179.10 L819.99 177.05 L820.49 175.04 L820.98 173.06 L821.47 171.11 L821.96 169.19 L822.46 167.30 L822.95 165.43 L823.44 163.59 L823.94 161.78 L824.43 160.00 L824.92 158.24 L825.41 156.51 L825.91 154.81 L826.40 153.13 L826.89 151.47 L827.39 149.84 L827.88 148.24 L828.37 146.66 L828.87 145.11 L829.36 143.57 L829.85 142.07 L830.34 140.58 L830.84 139.12 L831.33 137.68 L831.82 136.26 L832.32 134.87 L832.81 133.50 L833.30 132.15 L833.79 130.82 L834.29 129.51 L834.78 128.22 L835.27 126.96 L835.77 125.71 L836.26 124.49 L836.75 123.28 L837.25 122.10 L837.74 120.94 L838.23 119.79 L838.72 118.67 L839.22 117.57 L839.71 116.48 L840.20 115.42 L840.70 114.37 L841.19 113.34 L841.68 112.33 L842.17 111.34 L842.67 110.37 L843.16 109.42 L843.65 108.48 L844.15 107.57 L844.64 106.67 L845.13 105.79 L845.63 104.93 L846.12 104.08 L846.61 103.25 L847.10 102.44 L847.60 101.65 L848.09 100.88 L848.58 100.12 L849.08 99.38 L849.57 98.66 L850.06 97.95 L850.55 97.26 L851.05 96.59 L851.54 95.93 L852.03 95.30 L852.53 94.67 L853.02 94.07 L853.51 93.48 L854.01 92.91 L854.50 92.35 L854.99 91.81 L855.48 91.29 L855.98 90.78 L856.47 90.29 L856.96 89.82 L857.46 89.36 L857.95 88.92 L858.44 88.50 L858.93 88.09 L859.43 87.70 L859.92 87.32 L860.41 86.96 L860.91 86.61 L861.40 86.29 L861.89 85.97 L862.39 85.68 L862.88 85.40 L863.37 85.13 L863.86 84.88 L864.36 84.65 L864.85 84.43 L865.34 84.23 L865.84 84.05 L866.33 83.88 L866.82 83.73 L867.31 83.59 L867.81 83.47 L868.30 83.37 L868.79 83.28 L869.29 83.20 L869.78 83.15 L870.27 83.11 L870.76 83.08 L871.26 83.08 L871.75 83.08 L872.24 83.11 L872.74 83.15 L873.23 83.21 L873.72 83.28 L874.22 83.37 L874.71 83.48 L875.20 83.60 L875.69 83.74 L876.19 83.90 L876.68 84.07 L877.17 84.26 L877.67 84.47 L878.16 84.69 L878.65 84.93 L879.14 85.19 L879.64 85.46 L880.13 85.75 L880.62 86.06 L881.12 86.39 L881.61 86.73 L882.10 87.09 L882.60 87.47 L883.09 87.87 L883.58 88.28 L884.07 88.71 L884.57 89.16 L885.06 89.63 L885.55 90.12 L886.05 90.62 L886.54 91.15 L887.03 91.69 L887.52 92.25 L888.02 92.83 L888.51 93.43 L889.00 94.04 L889.50 94.68 L889.99 95.34 L890.48 96.01 L890.98 96.71 L891.47 97.42 L891.96 98.16 L892.45 98.91 L892.95 99.69 L893.44 100.49 L893.93 101.30 L894.43 102.14 L894.92 103.00 L895.41 103.88 L895.90 104.79 L896.40 105.71 L896.89 106.66 L897.38 107.62 L897.88 108.62 L898.37 109.63 L898.86 110.67 L899.36 111.73 L899.85 112.81 L900.34 113.92 L900.83 115.05 L901.33 116.20 L901.82 117.38 L902.31 118.59 L902.81 119.82 L903.30 121.08 L903.79 122.36 L904.28 123.67 L904.78 125.00 L905.27 126.36 L905.76 127.75 L906.26 129.17 L906.75 130.61 L907.24 132.09 L907.74 133.59 L908.23 135.12 L908.72 136.69 L909.21 138.28 L909.71 139.90 L910.20 141.56" fill="none" stroke="#D95319" stroke-width="4.5" stroke-linejoin="round"/>
<g fill="#0072BD"><circle cx="1102.00" cy="102.20" r="8.3"/><circle cx="1117.75" cy="105.20" r="8.3"/><circle cx="1133.51" cy="105.20" r="8.3"/><circle cx="1149.26" cy="105.80" r="8.3"/><circle cx="1165.02" cy="106.20" r="8.3"/><circle cx="1180.77" cy="106.20" r="8.3"/><circle cx="1196.52" cy="107.70" r="8.3"/><circle cx="1212.28" cy="102.80" r="8.3"/><circle cx="1228.03" cy="101.30" r="8.3"/><circle cx="1243.79" cy="100.60" r="8.3"/><circle cx="1259.54" cy="100.30" r="8.3"/><circle cx="1275.29" cy="97.40" r="8.3"/><circle cx="1291.05" cy="94.40" r="8.3"/><circle cx="1306.80" cy="93.70" r="8.3"/><circle cx="1322.56" cy="92.90" r="8.3"/><circle cx="1338.31" cy="94.40" r="8.3"/><circle cx="1354.06" cy="94.40" r="8.3"/><circle cx="1369.82" cy="96.60" r="8.3"/><circle cx="1385.57" cy="102.20" r="8.3"/><circle cx="1401.33" cy="108.80" r="8.3"/><circle cx="1417.08" cy="116.20" r="8.3"/><circle cx="1432.83" cy="123.30" r="8.3"/><circle cx="1448.59" cy="132.50" r="8.3"/><circle cx="1464.34" cy="142.10" r="8.3"/><circle cx="1480.10" cy="149.50" r="8.3"/><circle cx="1495.85" cy="160.60" r="8.3"/><circle cx="1511.60" cy="169.00" r="8.3"/><circle cx="1527.36" cy="178.00" r="8.3"/><circle cx="1543.11" cy="182.00" r="8.3"/><circle cx="1558.87" cy="190.80" r="8.3"/><circle cx="1574.62" cy="201.80" r="8.3"/><circle cx="1590.37" cy="222.10" r="8.3"/><circle cx="1606.13" cy="249.10" r="8.3"/><circle cx="1621.88" cy="289.30" r="8.3"/><circle cx="1637.64" cy="344.90" r="8.3"/><circle cx="1653.39" cy="428.10" r="8.3"/><circle cx="1669.14" cy="522.00" r="8.3"/><circle cx="1684.90" cy="530.00" r="8.3"/><circle cx="1700.65" cy="434.70" r="8.3"/><circle cx="1716.41" cy="334.80" r="8.3"/><circle cx="1732.16" cy="266.30" r="8.3"/><circle cx="1747.91" cy="217.10" r="8.3"/><circle cx="1763.67" cy="186.40" r="8.3"/><circle cx="1779.42" cy="170.30" r="8.3"/><circle cx="1795.18" cy="164.30" r="8.3"/><circle cx="1810.93" cy="158.60" r="8.3"/><circle cx="1826.68" cy="150.90" r="8.3"/><circle cx="1842.44" cy="134.50" r="8.3"/><circle cx="1858.19" cy="115.10" r="8.3"/><circle cx="1873.95" cy="97.40" r="8.3"/><circle cx="1889.70" cy="93.40" r="8.3"/></g>
<path d="M1102.00 106.06 L1102.49 106.06 L1102.98 106.06 L1103.48 106.06 L1103.97 106.06 L1104.46 106.06 L1104.95 106.06 L1105.45 106.06 L1105.94 106.06 L1106.43 106.06 L1106.92 106.06 L1107.42 106.06 L1107.91 106.06 L1108.40 106.06 L1108.89 106.05 L1109.38 106.05 L1109.88 106.05 L1110.37 106.05 L1110.86 106.05 L1111.35 106.05 L1111.85 106.05 L1112.34 106.05 L1112.83 106.05 L1113.32 106.05 L1113.82 106.05 L1114.31 106.05 L1114.80 106.05 L1115.29 106.05 L1115.78 106.05 L1116.28 106.05 L1116.77 106.05 L1117.26 106.05 L1117.75 106.04 L1118.25 106.04 L1118.74 106.04 L1119.23 106.04 L1119.72 106.04 L1120.22 106.04 L1120.71 106.04 L1121.20 106.04 L1121.69 106.04 L1122.18 106.04 L1122.68 106.04 L1123.17 106.04 L1123.66 106.03 L1124.15 106.03 L1124.65 106.03 L1125.14 106.03 L1125.63 106.03 L1126.12 106.03 L1126.62 106.03 L1127.11 106.03 L1127.60 106.03 L1128.09 106.02 L1128.58 106.02 L1129.08 106.02 L1129.57 106.02 L1130.06 106.02 L1130.55 106.02 L1131.05 106.02 L1131.54 106.01 L1132.03 106.01 L1132.52 106.01 L1133.02 106.01 L1133.51 106.01 L1134.00 106.01 L1134.49 106.01 L1134.98 106.00 L1135.48 106.00 L1135.97 106.00 L1136.46 106.00 L1136.95 106.00 L1137.45 106.00 L1137.94 106.00 L1138.43 105.99 L1138.92 105.99 L1139.42 105.99 L1139.91 105.99 L1140.40 105.99 L1140.89 105.99 L1141.38 105.98 L1141.88 105.98 L1142.37 105.98 L1142.86 105.98 L1143.35 105.98 L1143.85 105.97 L1144.34 105.97 L1144.83 105.97 L1145.32 105.97 L1145.82 105.97 L1146.31 105.96 L1146.80 105.96 L1147.29 105.96 L1147.79 105.96 L1148.28 105.96 L1148.77 105.95 L1149.26 105.95 L1149.75 105.95 L1150.25 105.95 L1150.74 105.95 L1151.23 105.94 L1151.72 105.94 L1152.22 105.94 L1152.71 105.94 L1153.20 105.94 L1153.69 105.93 L1154.19 105.93 L1154.68 105.93 L1155.17 105.93 L1155.66 105.92 L1156.15 105.92 L1156.65 105.92 L1157.14 105.92 L1157.63 105.92 L1158.12 105.91 L1158.62 105.91 L1159.11 105.91 L1159.60 105.91 L1160.09 105.90 L1160.59 105.90 L1161.08 105.90 L1161.57 105.90 L1162.06 105.89 L1162.55 105.89 L1163.05 105.89 L1163.54 105.89 L1164.03 105.89 L1164.52 105.88 L1165.02 105.88 L1165.51 105.88 L1166.00 105.88 L1166.49 105.87 L1166.99 105.87 L1167.48 105.87 L1167.97 105.87 L1168.46 105.86 L1168.95 105.86 L1169.45 105.86 L1169.94 105.86 L1170.43 105.85 L1170.92 105.85 L1171.42 105.85 L1171.91 105.84 L1172.40 105.84 L1172.89 105.84 L1173.39 105.84 L1173.88 105.83 L1174.37 105.83 L1174.86 105.83 L1175.35 105.83 L1175.85 105.82 L1176.34 105.82 L1176.83 105.82 L1177.32 105.82 L1177.82 105.81 L1178.31 105.81 L1178.80 105.81 L1179.29 105.81 L1179.79 105.80 L1180.28 105.80 L1180.77 105.80 L1181.26 105.79 L1181.75 105.79 L1182.25 105.79 L1182.74 105.79 L1183.23 105.78 L1183.72 105.78 L1184.22 105.78 L1184.71 105.78 L1185.20 105.77 L1185.69 105.77 L1186.19 105.77 L1186.68 105.77 L1187.17 105.76 L1187.66 105.76 L1188.15 105.76 L1188.65 105.76 L1189.14 105.75 L1189.63 105.75 L1190.12 105.75 L1190.62 105.74 L1191.11 105.74 L1191.60 105.74 L1192.09 105.74 L1192.59 105.73 L1193.08 105.73 L1193.57 105.73 L1194.06 105.73 L1194.55 105.72 L1195.05 105.72 L1195.54 105.72 L1196.03 105.72 L1196.52 105.71 L1197.02 105.71 L1197.51 105.71 L1198.00 105.71 L1198.49 105.70 L1198.99 105.70 L1199.48 105.70 L1199.97 105.70 L1200.46 105.69 L1200.95 105.69 L1201.45 105.69 L1201.94 105.69 L1202.43 105.68 L1202.92 105.68 L1203.42 105.68 L1203.91 105.68 L1204.40 105.67 L1204.89 105.67 L1205.39 105.67 L1205.88 105.67 L1206.37 105.66 L1206.86 105.66 L1207.35 105.66 L1207.85 105.66 L1208.34 105.65 L1208.83 105.65 L1209.32 105.65 L1209.82 105.65 L1210.31 105.64 L1210.80 105.64 L1211.29 105.64 L1211.79 105.64 L1212.28 105.64 L1212.77 105.63 L1213.26 105.63 L1213.75 105.63 L1214.25 105.63 L1214.74 105.63 L1215.23 105.62 L1215.72 105.62 L1216.22 105.62 L1216.71 105.62 L1217.20 105.62 L1217.69 105.61 L1218.19 105.61 L1218.68 105.61 L1219.17 105.61 L1219.66 105.61 L1220.15 105.60 L1220.65 105.60 L1221.14 105.60 L1221.63 105.60 L1222.12 105.60 L1222.62 105.59 L1223.11 105.59 L1223.60 105.59 L1224.09 105.59 L1224.59 105.59 L1225.08 105.59 L1225.57 105.58 L1226.06 105.58 L1226.56 105.58 L1227.05 105.58 L1227.54 105.58 L1228.03 105.58 L1228.52 105.58 L1229.02 105.57 L1229.51 105.57 L1230.00 105.57 L1230.49 105.57 L1230.99 105.57 L1231.48 105.57 L1231.97 105.57 L1232.46 105.57 L1232.96 105.56 L1233.45 105.56 L1233.94 105.56 L1234.43 105.56 L1234.92 105.56 L1235.42 105.56 L1235.91 105.56 L1236.40 105.56 L1236.89 105.56 L1237.39 105.56 L1237.88 105.56 L1238.37 105.56 L1238.86 105.55 L1239.36 105.55 L1239.85 105.55 L1240.34 105.55 L1240.83 105.55 L1241.32 105.55 L1241.82 105.55 L1242.31 105.55 L1242.80 105.55 L1243.29 105.55 L1243.79 105.55 L1244.28 105.55 L1244.77 105.55 L1245.26 105.55 L1245.76 105.55 L1246.25 105.55 L1246.74 105.55 L1247.23 105.55 L1247.72 105.55 L1248.22 105.55 L1248.71 105.55 L1249.20 105.55 L1249.69 105.55 L1250.19 105.55 L1250.68 105.55 L1251.17 105.55 L1251.66 105.55 L1252.16 105.55 L1252.65 105.55 L1253.14 105.55 L1253.63 105.56 L1254.12 105.56 L1254.62 105.56 L1255.11 105.56 L1255.60 105.56 L1256.09 105.56 L1256.59 105.56 L1257.08 105.56 L1257.57 105.56 L1258.06 105.56 L1258.56 105.57 L1259.05 105.57 L1259.54 105.57 L1260.03 105.57 L1260.52 105.57 L1261.02 105.57 L1261.51 105.57 L1262.00 105.58 L1262.49 105.58 L1262.99 105.58 L1263.48 105.58 L1263.97 105.58 L1264.46 105.59 L1264.96 105.59 L1265.45 105.59 L1265.94 105.59 L1266.43 105.60 L1266.92 105.60 L1267.42 105.60 L1267.91 105.60 L1268.40 105.61 L1268.89 105.61 L1269.39 105.61 L1269.88 105.61 L1270.37 105.62 L1270.86 105.62 L1271.36 105.62 L1271.85 105.63 L1272.34 105.63 L1272.83 105.63 L1273.32 105.64 L1273.82 105.64 L1274.31 105.64 L1274.80 105.65 L1275.29 105.65 L1275.79 105.65 L1276.28 105.66 L1276.77 105.66 L1277.26 105.66 L1277.76 105.67 L1278.25 105.67 L1278.74 105.68 L1279.23 105.68 L1279.72 105.69 L1280.22 105.69 L1280.71 105.69 L1281.20 105.70 L1281.69 105.70 L1282.19 105.71 L1282.68 105.71 L1283.17 105.72 L1283.66 105.72 L1284.16 105.73 L1284.65 105.73 L1285.14 105.74 L1285.63 105.75 L1286.12 105.75 L1286.62 105.76 L1287.11 105.76 L1287.60 105.77 L1288.09 105.77 L1288.59 105.78 L1289.08 105.79 L1289.57 105.79 L1290.06 105.80 L1290.56 105.80 L1291.05 105.81 L1291.54 105.82 L1292.03 105.82 L1292.52 105.83 L1293.02 105.84 L1293.51 105.85 L1294.00 105.85 L1294.49 105.86 L1294.99 105.87 L1295.48 105.87 L1295.97 105.88 L1296.46 105.89 L1296.96 105.90 L1297.45 105.91 L1297.94 105.91 L1298.43 105.92 L1298.92 105.93 L1299.42 105.94 L1299.91 105.95 L1300.40 105.95 L1300.89 105.96 L1301.39 105.97 L1301.88 105.98 L1302.37 105.99 L1302.86 106.00 L1303.36 106.01 L1303.85 106.02 L1304.34 106.03 L1304.83 106.04 L1305.33 106.05 L1305.82 106.06 L1306.31 106.07 L1306.80 106.08 L1307.29 106.09 L1307.79 106.10 L1308.28 106.11 L1308.77 106.12 L1309.26 106.13 L1309.76 106.14 L1310.25 106.15 L1310.74 106.16 L1311.23 106.17 L1311.73 106.19 L1312.22 106.20 L1312.71 106.21 L1313.20 106.22 L1313.69 106.23 L1314.19 106.24 L1314.68 106.26 L1315.17 106.27 L1315.66 106.28 L1316.16 106.29 L1316.65 106.31 L1317.14 106.32 L1317.63 106.33 L1318.13 106.35 L1318.62 106.36 L1319.11 106.37 L1319.60 106.39 L1320.09 106.40 L1320.59 106.41 L1321.08 106.43 L1321.57 106.44 L1322.06 106.46 L1322.56 106.47 L1323.05 106.49 L1323.54 106.50 L1324.03 106.52 L1324.53 106.53 L1325.02 106.55 L1325.51 106.56 L1326.00 106.58 L1326.49 106.59 L1326.99 106.61 L1327.48 106.63 L1327.97 106.64 L1328.46 106.66 L1328.96 106.68 L1329.45 106.69 L1329.94 106.71 L1330.43 106.73 L1330.93 106.75 L1331.42 106.76 L1331.91 106.78 L1332.40 106.80 L1332.89 106.82 L1333.39 106.84 L1333.88 106.85 L1334.37 106.87 L1334.86 106.89 L1335.36 106.91 L1335.85 106.93 L1336.34 106.95 L1336.83 106.97 L1337.33 106.99 L1337.82 107.01 L1338.31 107.03 L1338.80 107.05 L1339.29 107.07 L1339.79 107.09 L1340.28 107.11 L1340.77 107.13 L1341.26 107.15 L1341.76 107.18 L1342.25 107.20 L1342.74 107.22 L1343.23 107.24 L1343.73 107.26 L1344.22 107.29 L1344.71 107.31 L1345.20 107.33 L1345.69 107.36 L1346.19 107.38 L1346.68 107.40 L1347.17 107.43 L1347.66 107.45 L1348.16 107.48 L1348.65 107.50 L1349.14 107.53 L1349.63 107.55 L1350.13 107.58 L1350.62 107.60 L1351.11 107.63 L1351.60 107.65 L1352.09 107.68 L1352.59 107.71 L1353.08 107.73 L1353.57 107.76 L1354.06 107.79 L1354.56 107.81 L1355.05 107.84 L1355.54 107.87 L1356.03 107.90 L1356.53 107.93 L1357.02 107.95 L1357.51 107.98 L1358.00 108.01 L1358.49 108.04 L1358.99 108.07 L1359.48 108.10 L1359.97 108.13 L1360.46 108.16 L1360.96 108.19 L1361.45 108.22 L1361.94 108.26 L1362.43 108.29 L1362.93 108.32 L1363.42 108.35 L1363.91 108.38 L1364.40 108.42 L1364.89 108.45 L1365.39 108.48 L1365.88 108.51 L1366.37 108.55 L1366.86 108.58 L1367.36 108.62 L1367.85 108.65 L1368.34 108.69 L1368.83 108.72 L1369.33 108.76 L1369.82 108.79 L1370.31 108.83 L1370.80 108.86 L1371.29 108.90 L1371.79 108.94 L1372.28 108.98 L1372.77 109.01 L1373.26 109.05 L1373.76 109.09 L1374.25 109.13 L1374.74 109.17 L1375.23 109.21 L1375.73 109.25 L1376.22 109.29 L1376.71 109.33 L1377.20 109.37 L1377.69 109.41 L1378.19 109.45 L1378.68 109.49 L1379.17 109.53 L1379.66 109.57 L1380.16 109.62 L1380.65 109.66 L1381.14 109.70 L1381.63 109.74 L1382.13 109.79 L1382.62 109.83 L1383.11 109.88 L1383.60 109.92 L1384.10 109.97 L1384.59 110.01 L1385.08 110.06 L1385.57 110.11 L1386.06 110.15 L1386.56 110.20 L1387.05 110.25 L1387.54 110.30 L1388.03 110.34 L1388.53 110.39 L1389.02 110.44 L1389.51 110.49 L1390.00 110.54 L1390.50 110.59 L1390.99 110.64 L1391.48 110.69 L1391.97 110.74 L1392.46 110.80 L1392.96 110.85 L1393.45 110.90 L1393.94 110.95 L1394.43 111.01 L1394.93 111.06 L1395.42 111.11 L1395.91 111.17 L1396.40 111.22 L1396.90 111.28 L1397.39 111.34 L1397.88 111.39 L1398.37 111.45 L1398.86 111.51 L1399.36 111.56 L1399.85 111.62 L1400.34 111.68 L1400.83 111.74 L1401.33 111.80 L1401.82 111.86 L1402.31 111.92 L1402.80 111.98 L1403.30 112.04 L1403.79 112.10 L1404.28 112.17 L1404.77 112.23 L1405.26 112.29 L1405.76 112.36 L1406.25 112.42 L1406.74 112.49 L1407.23 112.55 L1407.73 112.62 L1408.22 112.68 L1408.71 112.75 L1409.20 112.82 L1409.70 112.89 L1410.19 112.95 L1410.68 113.02 L1411.17 113.09 L1411.66 113.16 L1412.16 113.23 L1412.65 113.30 L1413.14 113.37 L1413.63 113.45 L1414.13 113.52 L1414.62 113.59 L1415.11 113.67 L1415.60 113.74 L1416.10 113.81 L1416.59 113.89 L1417.08 113.97 L1417.57 114.04 L1418.06 114.12 L1418.56 114.20 L1419.05 114.27 L1419.54 114.35 L1420.03 114.43 L1420.53 114.51 L1421.02 114.59 L1421.51 114.67 L1422.00 114.76 L1422.50 114.84 L1422.99 114.92 L1423.48 115.00 L1423.97 115.09 L1424.46 115.17 L1424.96 115.26 L1425.45 115.34 L1425.94 115.43 L1426.43 115.52 L1426.93 115.61 L1427.42 115.70 L1427.91 115.78 L1428.40 115.87 L1428.90 115.96 L1429.39 116.06 L1429.88 116.15 L1430.37 116.24 L1430.86 116.33 L1431.36 116.43 L1431.85 116.52 L1432.34 116.62 L1432.83 116.71 L1433.33 116.81 L1433.82 116.91 L1434.31 117.01 L1434.80 117.10 L1435.30 117.20 L1435.79 117.30 L1436.28 117.40 L1436.77 117.51 L1437.26 117.61 L1437.76 117.71 L1438.25 117.82 L1438.74 117.92 L1439.23 118.03 L1439.73 118.13 L1440.22 118.24 L1440.71 118.35 L1441.20 118.46 L1441.70 118.56 L1442.19 118.67 L1442.68 118.79 L1443.17 118.90 L1443.66 119.01 L1444.16 119.12 L1444.65 119.24 L1445.14 119.35 L1445.63 119.47 L1446.13 119.58 L1446.62 119.70 L1447.11 119.82 L1447.60 119.94 L1448.10 120.06 L1448.59 120.18 L1449.08 120.30 L1449.57 120.42 L1450.06 120.55 L1450.56 120.67 L1451.05 120.80 L1451.54 120.92 L1452.03 121.05 L1452.53 121.18 L1453.02 121.31 L1453.51 121.44 L1454.00 121.57 L1454.50 121.70 L1454.99 121.83 L1455.48 121.96 L1455.97 122.10 L1456.47 122.23 L1456.96 122.37 L1457.45 122.51 L1457.94 122.64 L1458.43 122.78 L1458.93 122.92 L1459.42 123.07 L1459.91 123.21 L1460.40 123.35 L1460.90 123.49 L1461.39 123.64 L1461.88 123.79 L1462.37 123.93 L1462.87 124.08 L1463.36 124.23 L1463.85 124.38 L1464.34 124.53 L1464.83 124.68 L1465.33 124.84 L1465.82 124.99 L1466.31 125.15 L1466.80 125.30 L1467.30 125.46 L1467.79 125.62 L1468.28 125.78 L1468.77 125.94 L1469.27 126.10 L1469.76 126.27 L1470.25 126.43 L1470.74 126.60 L1471.23 126.76 L1471.73 126.93 L1472.22 127.10 L1472.71 127.27 L1473.20 127.44 L1473.70 127.62 L1474.19 127.79 L1474.68 127.96 L1475.17 128.14 L1475.67 128.32 L1476.16 128.50 L1476.65 128.68 L1477.14 128.86 L1477.63 129.04 L1478.13 129.22 L1478.62 129.41 L1479.11 129.60 L1479.60 129.78 L1480.10 129.97 L1480.59 130.16 L1481.08 130.35 L1481.57 130.55 L1482.07 130.74 L1482.56 130.94 L1483.05 131.13 L1483.54 131.33 L1484.03 131.53 L1484.53 131.73 L1485.02 131.93 L1485.51 132.14 L1486.00 132.34 L1486.50 132.55 L1486.99 132.76 L1487.48 132.96 L1487.97 133.18 L1488.47 133.39 L1488.96 133.60 L1489.45 133.82 L1489.94 134.03 L1490.43 134.25 L1490.93 134.47 L1491.42 134.69 L1491.91 134.91 L1492.40 135.14 L1492.90 135.36 L1493.39 135.59 L1493.88 135.82 L1494.37 136.05 L1494.87 136.28 L1495.36 136.51 L1495.85 136.75 L1496.34 136.98 L1496.83 137.22 L1497.33 137.46 L1497.82 137.70 L1498.31 137.95 L1498.80 138.19 L1499.30 138.44 L1499.79 138.68 L1500.28 138.93 L1500.77 139.19 L1501.27 139.44 L1501.76 139.69 L1502.25 139.95 L1502.74 140.21 L1503.23 140.47 L1503.73 140.73 L1504.22 140.99 L1504.71 141.26 L1505.20 141.52 L1505.70 141.79 L1506.19 142.06 L1506.68 142.34 L1507.17 142.61 L1507.67 142.89 L1508.16 143.16 L1508.65 143.44 L1509.14 143.73 L1509.63 144.01 L1510.13 144.30 L1510.62 144.58 L1511.11 144.87 L1511.60 145.16 L1512.10 145.46 L1512.59 145.75 L1513.08 146.05 L1513.57 146.35 L1514.07 146.65 L1514.56 146.95 L1515.05 147.26 L1515.54 147.57 L1516.03 147.88 L1516.53 148.19 L1517.02 148.50 L1517.51 148.82 L1518.00 149.13 L1518.50 149.45 L1518.99 149.78 L1519.48 150.10 L1519.97 150.43 L1520.47 150.76 L1520.96 151.09 L1521.45 151.42 L1521.94 151.76 L1522.43 152.09 L1522.93 152.43 L1523.42 152.78 L1523.91 153.12 L1524.40 153.47 L1524.90 153.82 L1525.39 154.17 L1525.88 154.52 L1526.37 154.88 L1526.87 155.24 L1527.36 155.60 L1527.85 155.96 L1528.34 156.33 L1528.83 156.70 L1529.33 157.07 L1529.82 157.44 L1530.31 157.82 L1530.80 158.20 L1531.30 158.58 L1531.79 158.96 L1532.28 159.35 L1532.77 159.73 L1533.27 160.13 L1533.76 160.52 L1534.25 160.92 L1534.74 161.32 L1535.24 161.72 L1535.73 162.12 L1536.22 162.53 L1536.71 162.94 L1537.20 163.35 L1537.70 163.77 L1538.19 164.19 L1538.68 164.61 L1539.17 165.03 L1539.67 165.46 L1540.16 165.89 L1540.65 166.32 L1541.14 166.76 L1541.64 167.20 L1542.13 167.64 L1542.62 168.08 L1543.11 168.53 L1543.60 168.98 L1544.10 169.43 L1544.59 169.89 L1545.08 170.35 L1545.57 170.81 L1546.07 171.28 L1546.56 171.75 L1547.05 172.22 L1547.54 172.70 L1548.04 173.18 L1548.53 173.66 L1549.02 174.14 L1549.51 174.63 L1550.00 175.13 L1550.50 175.62 L1550.99 176.12 L1551.48 176.62 L1551.97 177.13 L1552.47 177.64 L1552.96 178.15 L1553.45 178.66 L1553.94 179.18 L1554.44 179.71 L1554.93 180.23 L1555.42 180.76 L1555.91 181.30 L1556.40 181.84 L1556.90 182.38 L1557.39 182.92 L1557.88 183.47 L1558.37 184.02 L1558.87 184.58 L1559.36 185.14 L1559.85 185.70 L1560.34 186.27 L1560.84 186.84 L1561.33 187.42 L1561.82 188.00 L1562.31 188.58 L1562.80 189.17 L1563.30 189.76 L1563.79 190.36 L1564.28 190.96 L1564.77 191.56 L1565.27 192.17 L1565.76 192.78 L1566.25 193.40 L1566.74 194.02 L1567.24 194.65 L1567.73 195.28 L1568.22 195.91 L1568.71 196.55 L1569.20 197.19 L1569.70 197.84 L1570.19 198.49 L1570.68 199.15 L1571.17 199.81 L1571.67 200.48 L1572.16 201.15 L1572.65 201.82 L1573.14 202.50 L1573.64 203.19 L1574.13 203.88 L1574.62 204.57 L1575.11 205.27 L1575.60 205.98 L1576.10 206.69 L1576.59 207.40 L1577.08 208.12 L1577.57 208.85 L1578.07 209.58 L1578.56 210.31 L1579.05 211.06 L1579.54 211.80 L1580.04 212.55 L1580.53 213.31 L1581.02 214.07 L1581.51 214.84 L1582.00 215.61 L1582.50 216.39 L1582.99 217.18 L1583.48 217.97 L1583.97 218.76 L1584.47 219.57 L1584.96 220.38 L1585.45 221.19 L1585.94 222.01 L1586.44 222.83 L1586.93 223.67 L1587.42 224.51 L1587.91 225.35 L1588.40 226.20 L1588.90 227.06 L1589.39 227.92 L1589.88 228.79 L1590.37 229.67 L1590.87 230.55 L1591.36 231.44 L1591.85 232.33 L1592.34 233.24 L1592.84 234.15 L1593.33 235.06 L1593.82 235.99 L1594.31 236.92 L1594.80 237.85 L1595.30 238.80 L1595.79 239.75 L1596.28 240.71 L1596.77 241.68 L1597.27 242.65 L1597.76 243.63 L1598.25 244.62 L1598.74 245.62 L1599.24 246.62 L1599.73 247.63 L1600.22 248.65 L1600.71 249.68 L1601.20 250.72 L1601.70 251.76 L1602.19 252.81 L1602.68 253.88 L1603.17 254.94 L1603.67 256.02 L1604.16 257.11 L1604.65 258.20 L1605.14 259.31 L1605.64 260.42 L1606.13 261.54 L1606.62 262.67 L1607.11 263.81 L1607.60 264.96 L1608.10 266.12 L1608.59 267.28 L1609.08 268.46 L1609.57 269.65 L1610.07 270.84 L1610.56 272.05 L1611.05 273.26 L1611.54 274.49 L1612.04 275.73 L1612.53 276.97 L1613.02 278.23 L1613.51 279.50 L1614.01 280.77 L1614.50 282.06 L1614.99 283.36 L1615.48 284.67 L1615.97 285.99 L1616.47 287.33 L1616.96 288.67 L1617.45 290.03 L1617.94 291.39 L1618.44 292.77 L1618.93 294.16 L1619.42 295.57 L1619.91 296.98 L1620.41 298.41 L1620.90 299.85 L1621.39 301.30 L1621.88 302.77 L1622.37 304.25 L1622.87 305.74 L1623.36 307.24 L1623.85 308.76 L1624.34 310.29 L1624.84 311.84 L1625.33 313.40 L1625.82 314.97 L1626.31 316.56 L1626.81 318.16 L1627.30 319.78 L1627.79 321.41 L1628.28 323.06 L1628.77 324.72 L1629.27 326.40 L1629.76 328.09 L1630.25 329.80 L1630.74 331.52 L1631.24 333.26 L1631.73 335.02 L1632.22 336.79 L1632.71 338.58 L1633.21 340.38 L1633.70 342.21 L1634.19 344.05 L1634.68 345.90 L1635.17 347.78 L1635.67 349.67 L1636.16 351.58 L1636.65 353.51 L1637.14 355.46 L1637.64 357.42 L1638.13 359.41 L1638.62 361.41 L1639.11 363.43 L1639.61 365.47 L1640.10 367.54 L1640.59 369.62 L1641.08 371.72 L1641.57 373.84 L1642.07 375.98 L1642.56 378.14 L1643.05 380.32 L1643.54 382.52 L1644.04 384.75 L1644.53 386.99 L1645.02 389.26 L1645.51 391.54 L1646.01 393.85 L1646.50 396.18 L1646.99 398.53 L1647.48 400.90 L1647.97 403.29 L1648.47 405.71 L1648.96 408.14 L1649.45 410.60 L1649.94 413.08 L1650.44 415.58 L1650.93 418.10 L1651.42 420.64 L1651.91 423.20 L1652.41 425.78 L1652.90 428.38 L1653.39 431.00 L1653.88 433.63 L1654.37 436.29 L1654.87 438.96 L1655.36 441.65 L1655.85 444.36 L1656.34 447.08 L1656.84 449.82 L1657.33 452.57 L1657.82 455.33 L1658.31 458.10 L1658.81 460.88 L1659.30 463.66 L1659.79 466.46 L1660.28 469.25 L1660.77 472.05 L1661.27 474.85 L1661.76 477.64 L1662.25 480.43 L1662.74 483.20 L1663.24 485.97 L1663.73 488.72 L1664.22 491.45 L1664.71 494.16 L1665.21 496.84 L1665.70 499.48 L1666.19 502.09 L1666.68 504.66 L1667.17 507.19 L1667.67 509.66 L1668.16 512.07 L1668.65 514.42 L1669.14 516.70 L1669.64 518.90 L1670.13 521.03 L1670.62 523.06 L1671.11 525.00 L1671.61 526.83 L1672.10 528.56 L1672.59 530.17 L1673.08 531.66 L1673.57 533.03 L1674.07 534.26 L1674.56 535.35 L1675.05 536.30 L1675.54 537.10 L1676.04 537.76 L1676.53 538.25 L1677.02 538.59 L1677.51 538.77 L1678.01 538.79 L1678.50 538.64 L1678.99 538.34 L1679.48 537.88 L1679.97 537.26 L1680.47 536.48 L1680.96 535.55 L1681.45 534.47 L1681.94 533.24 L1682.44 531.88 L1682.93 530.38 L1683.42 528.75 L1683.91 527.00 L1684.41 525.13 L1684.90 523.16 L1685.39 521.07 L1685.88 518.89 L1686.37 516.62 L1686.87 514.27 L1687.36 511.84 L1687.85 509.33 L1688.34 506.76 L1688.84 504.13 L1689.33 501.45 L1689.82 498.72 L1690.31 495.94 L1690.81 493.13 L1691.30 490.28 L1691.79 487.41 L1692.28 484.51 L1692.78 481.59 L1693.27 478.65 L1693.76 475.70 L1694.25 472.74 L1694.74 469.77 L1695.24 466.80 L1695.73 463.83 L1696.22 460.86 L1696.71 457.89 L1697.21 454.93 L1697.70 451.97 L1698.19 449.02 L1698.68 446.08 L1699.18 443.16 L1699.67 440.24 L1700.16 437.34 L1700.65 434.46 L1701.14 431.59 L1701.64 428.74 L1702.13 425.90 L1702.62 423.09 L1703.11 420.29 L1703.61 417.51 L1704.10 414.75 L1704.59 412.02 L1705.08 409.30 L1705.58 406.60 L1706.07 403.93 L1706.56 401.27 L1707.05 398.64 L1707.54 396.03 L1708.04 393.44 L1708.53 390.87 L1709.02 388.33 L1709.51 385.80 L1710.01 383.30 L1710.50 380.82 L1710.99 378.36 L1711.48 375.92 L1711.98 373.50 L1712.47 371.11 L1712.96 368.74 L1713.45 366.38 L1713.94 364.05 L1714.44 361.74 L1714.93 359.45 L1715.42 357.18 L1715.91 354.93 L1716.41 352.70 L1716.90 350.49 L1717.39 348.30 L1717.88 346.13 L1718.38 343.98 L1718.87 341.85 L1719.36 339.74 L1719.85 337.65 L1720.34 335.58 L1720.84 333.52 L1721.33 331.48 L1721.82 329.46 L1722.31 327.46 L1722.81 325.48 L1723.30 323.51 L1723.79 321.57 L1724.28 319.63 L1724.78 317.72 L1725.27 315.82 L1725.76 313.94 L1726.25 312.08 L1726.74 310.23 L1727.24 308.40 L1727.73 306.58 L1728.22 304.78 L1728.71 303.00 L1729.21 301.23 L1729.70 299.48 L1730.19 297.74 L1730.68 296.01 L1731.18 294.30 L1731.67 292.61 L1732.16 290.93 L1732.65 289.26 L1733.14 287.61 L1733.64 285.97 L1734.13 284.35 L1734.62 282.74 L1735.11 281.14 L1735.61 279.56 L1736.10 277.99 L1736.59 276.43 L1737.08 274.89 L1737.58 273.36 L1738.07 271.84 L1738.56 270.33 L1739.05 268.84 L1739.54 267.36 L1740.04 265.89 L1740.53 264.43 L1741.02 262.98 L1741.51 261.55 L1742.01 260.13 L1742.50 258.72 L1742.99 257.32 L1743.48 255.93 L1743.98 254.55 L1744.47 253.19 L1744.96 251.83 L1745.45 250.49 L1745.94 249.15 L1746.44 247.83 L1746.93 246.52 L1747.42 245.22 L1747.91 243.93 L1748.41 242.65 L1748.90 241.37 L1749.39 240.11 L1749.88 238.86 L1750.38 237.62 L1750.87 236.39 L1751.36 235.17 L1751.85 233.96 L1752.34 232.75 L1752.84 231.56 L1753.33 230.38 L1753.82 229.20 L1754.31 228.04 L1754.81 226.88 L1755.30 225.73 L1755.79 224.60 L1756.28 223.47 L1756.78 222.35 L1757.27 221.23 L1757.76 220.13 L1758.25 219.04 L1758.74 217.95 L1759.24 216.87 L1759.73 215.80 L1760.22 214.74 L1760.71 213.69 L1761.21 212.64 L1761.70 211.61 L1762.19 210.58 L1762.68 209.56 L1763.18 208.54 L1763.67 207.54 L1764.16 206.54 L1764.65 205.55 L1765.14 204.57 L1765.64 203.59 L1766.13 202.63 L1766.62 201.67 L1767.11 200.71 L1767.61 199.77 L1768.10 198.83 L1768.59 197.90 L1769.08 196.98 L1769.58 196.06 L1770.07 195.15 L1770.56 194.25 L1771.05 193.35 L1771.55 192.47 L1772.04 191.58 L1772.53 190.71 L1773.02 189.84 L1773.51 188.98 L1774.01 188.13 L1774.50 187.28 L1774.99 186.44 L1775.48 185.60 L1775.98 184.77 L1776.47 183.95 L1776.96 183.14 L1777.45 182.33 L1777.95 181.53 L1778.44 180.73 L1778.93 179.94 L1779.42 179.15 L1779.91 178.38 L1780.41 177.60 L1780.90 176.84 L1781.39 176.08 L1781.88 175.32 L1782.38 174.58 L1782.87 173.83 L1783.36 173.10 L1783.85 172.37 L1784.35 171.64 L1784.84 170.92 L1785.33 170.21 L1785.82 169.50 L1786.31 168.80 L1786.81 168.10 L1787.30 167.41 L1787.79 166.73 L1788.28 166.05 L1788.78 165.37 L1789.27 164.71 L1789.76 164.04 L1790.25 163.38 L1790.75 162.73 L1791.24 162.08 L1791.73 161.44 L1792.22 160.80 L1792.71 160.17 L1793.21 159.55 L1793.70 158.92 L1794.19 158.31 L1794.68 157.70 L1795.18 157.09 L1795.67 156.49 L1796.16 155.89 L1796.65 155.30 L1797.15 154.71 L1797.64 154.13 L1798.13 153.56 L1798.62 152.98 L1799.11 152.42 L1799.61 151.85 L1800.10 151.30 L1800.59 150.74 L1801.08 150.20 L1801.58 149.65 L1802.07 149.11 L1802.56 148.58 L1803.05 148.05 L1803.55 147.52 L1804.04 147.00 L1804.53 146.49 L1805.02 145.98 L1805.51 145.47 L1806.01 144.97 L1806.50 144.47 L1806.99 143.97 L1807.48 143.48 L1807.98 143.00 L1808.47 142.52 L1808.96 142.04 L1809.45 141.57 L1809.95 141.10 L1810.44 140.64 L1810.93 140.18 L1811.42 139.72 L1811.91 139.27 L1812.41 138.82 L1812.90 138.38 L1813.39 137.94 L1813.88 137.50 L1814.38 137.07 L1814.87 136.64 L1815.36 136.22 L1815.85 135.80 L1816.35 135.38 L1816.84 134.97 L1817.33 134.56 L1817.82 134.16 L1818.31 133.76 L1818.81 133.36 L1819.30 132.97 L1819.79 132.58 L1820.28 132.20 L1820.78 131.82 L1821.27 131.44 L1821.76 131.07 L1822.25 130.69 L1822.75 130.33 L1823.24 129.96 L1823.73 129.61 L1824.22 129.25 L1824.71 128.90 L1825.21 128.55 L1825.70 128.20 L1826.19 127.86 L1826.68 127.52 L1827.18 127.19 L1827.67 126.86 L1828.16 126.53 L1828.65 126.20 L1829.15 125.88 L1829.64 125.56 L1830.13 125.25 L1830.62 124.94 L1831.11 124.63 L1831.61 124.32 L1832.10 124.02 L1832.59 123.72 L1833.08 123.43 L1833.58 123.14 L1834.07 122.85 L1834.56 122.56 L1835.05 122.28 L1835.55 122.00 L1836.04 121.72 L1836.53 121.45 L1837.02 121.18 L1837.51 120.91 L1838.01 120.65 L1838.50 120.38 L1838.99 120.13 L1839.48 119.87 L1839.98 119.62 L1840.47 119.37 L1840.96 119.12 L1841.45 118.88 L1841.95 118.64 L1842.44 118.40 L1842.93 118.16 L1843.42 117.93 L1843.91 117.70 L1844.41 117.47 L1844.90 117.25 L1845.39 117.02 L1845.88 116.81 L1846.38 116.59 L1846.87 116.38 L1847.36 116.16 L1847.85 115.96 L1848.35 115.75 L1848.84 115.55 L1849.33 115.35 L1849.82 115.15 L1850.32 114.95 L1850.81 114.76 L1851.30 114.57 L1851.79 114.38 L1852.28 114.19 L1852.78 114.01 L1853.27 113.83 L1853.76 113.65 L1854.25 113.48 L1854.75 113.30 L1855.24 113.13 L1855.73 112.96 L1856.22 112.80 L1856.72 112.63 L1857.21 112.47 L1857.70 112.31 L1858.19 112.15 L1858.68 112.00 L1859.18 111.84 L1859.67 111.69 L1860.16 111.54 L1860.65 111.40 L1861.15 111.25 L1861.64 111.11 L1862.13 110.97 L1862.62 110.83 L1863.12 110.70 L1863.61 110.56 L1864.10 110.43 L1864.59 110.30 L1865.08 110.18 L1865.58 110.05 L1866.07 109.93 L1866.56 109.81 L1867.05 109.69 L1867.55 109.57 L1868.04 109.45 L1868.53 109.34 L1869.02 109.23 L1869.52 109.12 L1870.01 109.01 L1870.50 108.90 L1870.99 108.80 L1871.48 108.70 L1871.98 108.60 L1872.47 108.50 L1872.96 108.40 L1873.45 108.31 L1873.95 108.21 L1874.44 108.12 L1874.93 108.03 L1875.42 107.94 L1875.92 107.86 L1876.41 107.77 L1876.90 107.69 L1877.39 107.61 L1877.88 107.53 L1878.38 107.45 L1878.87 107.38 L1879.36 107.30 L1879.85 107.23 L1880.35 107.16 L1880.84 107.09 L1881.33 107.02 L1881.82 106.96 L1882.32 106.89 L1882.81 106.83 L1883.30 106.77 L1883.79 106.71 L1884.28 106.65 L1884.78 106.59 L1885.27 106.54 L1885.76 106.49 L1886.25 106.43 L1886.75 106.38 L1887.24 106.33 L1887.73 106.29 L1888.22 106.24 L1888.72 106.20 L1889.21 106.15 L1889.70 106.11" fill="none" stroke="#D95319" stroke-width="4.5" stroke-linejoin="round"/>
<rect x="596.0" y="527.4" width="287.4" height="78.7" fill="#fff" stroke="#777" stroke-width="2.1"/><circle cx="638.6" cy="548.3" r="9.6" fill="#0072BD"/><line x1="602.4" y1="585.4" x2="674.9" y2="585.4" stroke="#D95319" stroke-width="4.6"/>
<rect x="1127.0" y="514.5" width="288.0" height="81.5" fill="#fff" stroke="#777" stroke-width="2.1"/><circle cx="1170.0" cy="536.9" r="8.3" fill="#0072BD"/><line x1="1133.4" y1="574.6" x2="1206.7" y2="574.6" stroke="#D95319" stroke-width="4.6"/>
<text x="140.32" y="334.00" font-family="'Liberation Serif', serif" font-size="41.5" fill="#000" stroke="#000" stroke-width="0.30" textLength="151.84" lengthAdjust="spacingAndGlyphs">Device A</text>
<text x="137.39" y="384.00" font-family="'Liberation Serif', serif" font-size="43" font-style="italic" fill="#000" textLength="21.73" lengthAdjust="spacingAndGlyphs">&#954;</text>
<text x="163.42" y="369.20" font-family="'Liberation Serif', serif" font-size="28.8" fill="#000" textLength="15.61" lengthAdjust="spacingAndGlyphs">2</text>
<text x="193.59" y="387.10" font-family="'Liberation Serif', serif" font-size="41.5" fill="#000" stroke="#000" stroke-width="0.30" textLength="30.55" lengthAdjust="spacingAndGlyphs">=</text>
<text x="235.93" y="384.00" font-family="'Liberation Serif', serif" font-size="41.5" fill="#000" stroke="#000" stroke-width="0.30" textLength="75.22" lengthAdjust="spacingAndGlyphs">0.47</text>
<text x="138.05" y="433.80" font-family="'Liberation Serif', serif" font-size="41.5" font-style="italic" fill="#000" textLength="77.89" lengthAdjust="spacingAndGlyphs">bias</text>
<text x="228.47" y="436.90" font-family="'Liberation Serif', serif" font-size="41.5" fill="#000" stroke="#000" stroke-width="0.30" textLength="30.80" lengthAdjust="spacingAndGlyphs">=</text>
<text x="271.08" y="433.80" font-family="'Liberation Serif', serif" font-size="41.5" fill="#000" stroke="#000" stroke-width="0.30" textLength="98.98" lengthAdjust="spacingAndGlyphs">0.010</text>
<text x="138.20" y="483.60" font-family="'Liberation Serif', serif" font-size="41.5" font-style="italic" fill="#000" textLength="74.34" lengthAdjust="spacingAndGlyphs">loss</text>
<text x="223.73" y="486.70" font-family="'Liberation Serif', serif" font-size="41.5" fill="#000" stroke="#000" stroke-width="0.30" textLength="31.29" lengthAdjust="spacingAndGlyphs">=</text>
<text x="266.57" y="486.70" font-family="'Liberation Serif', serif" font-size="41.5" fill="#000" stroke="#000" stroke-width="0.30" textLength="30.80" lengthAdjust="spacingAndGlyphs">&#8722;</text>
<text x="296.52" y="483.60" font-family="'Liberation Serif', serif" font-size="41.5" fill="#000" stroke="#000" stroke-width="0.30" textLength="77.72" lengthAdjust="spacingAndGlyphs">17.8</text>
<text x="382.46" y="483.60" font-family="'Liberation Serif', serif" font-size="41.5" fill="#000" stroke="#000" stroke-width="0.30" textLength="49.32" lengthAdjust="spacingAndGlyphs">dB</text>
<text x="138.69" y="533.20" font-family="'Liberation Serif', serif" font-size="43" font-style="italic" fill="#000" textLength="22.89" lengthAdjust="spacingAndGlyphs">&#945;</text>
<text x="162.81" y="542.00" font-family="'Liberation Serif', serif" font-size="31" font-style="italic" fill="#000" textLength="16.41" lengthAdjust="spacingAndGlyphs">v</text>
<text x="181.23" y="542.00" font-family="'Liberation Serif', serif" font-size="29.2" fill="#000" textLength="15.69" lengthAdjust="spacingAndGlyphs">2</text>
<text x="198.11" y="542.00" font-family="'Liberation Serif', serif" font-size="30" font-style="italic" fill="#000" textLength="21.63" lengthAdjust="spacingAndGlyphs">&#981;</text>
<text x="234.19" y="536.30" font-family="'Liberation Serif', serif" font-size="41.5" fill="#000" stroke="#000" stroke-width="0.30" textLength="31.66" lengthAdjust="spacingAndGlyphs">=</text>
<text x="276.82" y="533.20" font-family="'Liberation Serif', serif" font-size="41.5" fill="#000" stroke="#000" stroke-width="0.30" textLength="100.19" lengthAdjust="spacingAndGlyphs">0.116</text>
<text x="386.88" y="533.20" font-family="'Liberation Serif', serif" font-size="41.5" fill="#000" stroke="#000" stroke-width="0.30" textLength="105.78" lengthAdjust="spacingAndGlyphs">rad/V</text>
<text x="494.43" y="518.50" font-family="'Liberation Serif', serif" font-size="28.8" fill="#000" textLength="15.37" lengthAdjust="spacingAndGlyphs">2</text>
<text x="138.38" y="589.30" font-family="'Liberation Serif', serif" font-size="40.5" font-style="italic" fill="#000" textLength="27.59" lengthAdjust="spacingAndGlyphs">&#981;</text>
<text x="165.66" y="598.20" font-family="'Liberation Serif', serif" font-size="33" font-style="italic" fill="#000" textLength="53.76" lengthAdjust="spacingAndGlyphs">init</text>
<text x="234.97" y="592.40" font-family="'Liberation Serif', serif" font-size="41.5" fill="#000" stroke="#000" stroke-width="0.30" textLength="30.80" lengthAdjust="spacingAndGlyphs">=</text>
<text x="276.82" y="589.30" font-family="'Liberation Serif', serif" font-size="41.5" fill="#000" stroke="#000" stroke-width="0.30" textLength="75.88" lengthAdjust="spacingAndGlyphs">1.13</text>
<text x="363.88" y="589.30" font-family="'Liberation Serif', serif" font-size="41.5" fill="#000" stroke="#000" stroke-width="0.30" textLength="59.24" lengthAdjust="spacingAndGlyphs">rad</text>
<text x="1141.54" y="170.70" font-family="'Liberation Serif', serif" font-size="41.5" fill="#000" stroke="#000" stroke-width="0.30" textLength="149.68" lengthAdjust="spacingAndGlyphs">Device B</text>
<text x="1141.09" y="220.70" font-family="'Liberation Serif', serif" font-size="43" font-style="italic" fill="#000" textLength="21.73" lengthAdjust="spacingAndGlyphs">&#954;</text>
<text x="1167.12" y="205.90" font-family="'Liberation Serif', serif" font-size="28.8" fill="#000" textLength="15.61" lengthAdjust="spacingAndGlyphs">2</text>
<text x="1197.29" y="223.80" font-family="'Liberation Serif', serif" font-size="41.5" fill="#000" stroke="#000" stroke-width="0.30" textLength="30.55" lengthAdjust="spacingAndGlyphs">=</text>
<text x="1240.09" y="220.70" font-family="'Liberation Serif', serif" font-size="41.5" fill="#000" stroke="#000" stroke-width="0.30" textLength="76.52" lengthAdjust="spacingAndGlyphs">0.10</text>
<text x="1141.75" y="270.50" font-family="'Liberation Serif', serif" font-size="41.5" font-style="italic" fill="#000" textLength="77.89" lengthAdjust="spacingAndGlyphs">bias</text>
<text x="1232.17" y="273.60" font-family="'Liberation Serif', serif" font-size="41.5" fill="#000" stroke="#000" stroke-width="0.30" textLength="30.80" lengthAdjust="spacingAndGlyphs">=</text>
<text x="1274.59" y="270.50" font-family="'Liberation Serif', serif" font-size="41.5" fill="#000" stroke="#000" stroke-width="0.30" textLength="98.67" lengthAdjust="spacingAndGlyphs">0.015</text>
<text x="1141.90" y="320.30" font-family="'Liberation Serif', serif" font-size="41.5" font-style="italic" fill="#000" textLength="74.34" lengthAdjust="spacingAndGlyphs">loss</text>
<text x="1227.43" y="323.40" font-family="'Liberation Serif', serif" font-size="41.5" fill="#000" stroke="#000" stroke-width="0.30" textLength="31.29" lengthAdjust="spacingAndGlyphs">=</text>
<text x="1270.27" y="323.40" font-family="'Liberation Serif', serif" font-size="41.5" fill="#000" stroke="#000" stroke-width="0.30" textLength="30.80" lengthAdjust="spacingAndGlyphs">&#8722;</text>
<text x="1300.76" y="320.30" font-family="'Liberation Serif', serif" font-size="41.5" fill="#000" stroke="#000" stroke-width="0.30" textLength="76.90" lengthAdjust="spacingAndGlyphs">18.4</text>
<text x="1386.16" y="320.30" font-family="'Liberation Serif', serif" font-size="41.5" fill="#000" stroke="#000" stroke-width="0.30" textLength="49.32" lengthAdjust="spacingAndGlyphs">dB</text>
<text x="1142.39" y="369.90" font-family="'Liberation Serif', serif" font-size="43" font-style="italic" fill="#000" textLength="22.89" lengthAdjust="spacingAndGlyphs">&#945;</text>
<text x="1166.51" y="378.70" font-family="'Liberation Serif', serif" font-size="31" font-style="italic" fill="#000" textLength="16.41" lengthAdjust="spacingAndGlyphs">v</text>
<text x="1184.92" y="378.70" font-family="'Liberation Serif', serif" font-size="29.2" fill="#000" textLength="15.69" lengthAdjust="spacingAndGlyphs">2</text>
<text x="1201.81" y="378.70" font-family="'Liberation Serif', serif" font-size="30" font-style="italic" fill="#000" textLength="21.63" lengthAdjust="spacingAndGlyphs">&#981;</text>
<text x="1237.89" y="373.00" font-family="'Liberation Serif', serif" font-size="41.5" fill="#000" stroke="#000" stroke-width="0.30" textLength="31.66" lengthAdjust="spacingAndGlyphs">=</text>
<text x="1280.85" y="369.90" font-family="'Liberation Serif', serif" font-size="41.5" fill="#000" stroke="#000" stroke-width="0.30" textLength="33.52" lengthAdjust="spacingAndGlyphs">0.</text>
<text x="1319.83" y="369.90" font-family="'Liberation Serif', serif" font-size="41.5" fill="#000" stroke="#000" stroke-width="0.30" textLength="67.53" lengthAdjust="spacingAndGlyphs">098</text>
<text x="1387.87" y="369.90" font-family="'Liberation Serif', serif" font-size="41.5" fill="#000" stroke="#000" stroke-width="0.30" textLength="106.39" lengthAdjust="spacingAndGlyphs">rad/V</text>
<text x="1496.21" y="355.20" font-family="'Liberation Serif', serif" font-size="28.8" fill="#000" textLength="15.73" lengthAdjust="spacingAndGlyphs">2</text>
<text x="1142.08" y="426.00" font-family="'Liberation Serif', serif" font-size="40.5" font-style="italic" fill="#000" textLength="27.59" lengthAdjust="spacingAndGlyphs">&#981;</text>
<text x="1169.36" y="434.90" font-family="'Liberation Serif', serif" font-size="33" font-style="italic" fill="#000" textLength="53.76" lengthAdjust="spacingAndGlyphs">init</text>
<text x="1238.67" y="429.10" font-family="'Liberation Serif', serif" font-size="41.5" fill="#000" stroke="#000" stroke-width="0.30" textLength="30.80" lengthAdjust="spacingAndGlyphs">=</text>
<text x="1281.47" y="429.00" font-family="'Liberation Serif', serif" font-size="41.5" fill="#000" stroke="#000" stroke-width="0.30" textLength="29.57" lengthAdjust="spacingAndGlyphs">&#8722;</text>
<text x="1311.91" y="426.00" font-family="'Liberation Serif', serif" font-size="41.5" fill="#000" stroke="#000" stroke-width="0.30" textLength="75.83" lengthAdjust="spacingAndGlyphs">0.21</text>
<text x="1399.92" y="426.00" font-family="'Liberation Serif', serif" font-size="41.5" fill="#000" stroke="#000" stroke-width="0.30" textLength="57.16" lengthAdjust="spacingAndGlyphs">rad</text>
<text x="602.04" y="507.30" font-family="'Liberation Sans', sans-serif" font-size="37" fill="#000" textLength="179.19" lengthAdjust="spacingAndGlyphs">@1550 nm</text>
<text x="1129.04" y="492.30" font-family="'Liberation Sans', sans-serif" font-size="37" fill="#000" textLength="179.19" lengthAdjust="spacingAndGlyphs">@1550 nm</text>
<text x="679.47" y="561.30" font-family="'Liberation Sans', sans-serif" font-size="34" fill="#000" textLength="196.42" lengthAdjust="spacingAndGlyphs">Measurement</text>
<text x="679.91" y="597.30" font-family="'Liberation Sans', sans-serif" font-size="34" fill="#000" textLength="184.27" lengthAdjust="spacingAndGlyphs">Fitting curve</text>
<text x="1211.16" y="549.60" font-family="'Liberation Sans', sans-serif" font-size="34" fill="#000" textLength="196.72" lengthAdjust="spacingAndGlyphs">Measurement</text>
<text x="1211.71" y="586.80" font-family="'Liberation Sans', sans-serif" font-size="34" fill="#000" textLength="184.27" lengthAdjust="spacingAndGlyphs">Fitting curve</text>
<text x="503.26" y="771.80" font-family="'Liberation Sans', sans-serif" font-size="34.5" fill="#000" textLength="40.84" lengthAdjust="spacingAndGlyphs">(a)</text>
<text x="1477.20" y="771.80" font-family="'Liberation Sans', sans-serif" font-size="34.5" fill="#000" textLength="40.06" lengthAdjust="spacingAndGlyphs">(b)</text>
<text x="415.40" y="716.00" font-family="'Liberation Sans', sans-serif" font-size="42" fill="#262626" textLength="200.62" lengthAdjust="spacingAndGlyphs">Voltage [V]</text>
<text x="1395.40" y="716.00" font-family="'Liberation Sans', sans-serif" font-size="42" fill="#262626" textLength="200.62" lengthAdjust="spacingAndGlyphs">Voltage [V]</text>
<text transform="translate(35.30 454.21) rotate(-90)" x="0" y="0" font-family="'Liberation Sans', sans-serif" font-size="41" fill="#262626" textLength="267.76" lengthAdjust="spacingAndGlyphs">Reflection [dB]</text>
<text transform="translate(1015.80 454.21) rotate(-90)" x="0" y="0" font-family="'Liberation Sans', sans-serif" font-size="41" fill="#262626" textLength="267.76" lengthAdjust="spacingAndGlyphs">Reflection [dB]</text>
<text x="49.14" y="29.60" font-family="'Liberation Sans', sans-serif" font-size="37" fill="#262626" textLength="58.30" lengthAdjust="spacingAndGlyphs">&#8722;15</text>
<text x="1029.53" y="29.60" font-family="'Liberation Sans', sans-serif" font-size="37" fill="#262626" textLength="58.72" lengthAdjust="spacingAndGlyphs">&#8722;15</text>
<text x="49.14" y="151.20" font-family="'Liberation Sans', sans-serif" font-size="37" fill="#262626" textLength="58.30" lengthAdjust="spacingAndGlyphs">&#8722;20</text>
<text x="1029.53" y="151.20" font-family="'Liberation Sans', sans-serif" font-size="37" fill="#262626" textLength="58.72" lengthAdjust="spacingAndGlyphs">&#8722;20</text>
<text x="49.14" y="272.80" font-family="'Liberation Sans', sans-serif" font-size="37" fill="#262626" textLength="58.30" lengthAdjust="spacingAndGlyphs">&#8722;25</text>
<text x="1029.53" y="272.80" font-family="'Liberation Sans', sans-serif" font-size="37" fill="#262626" textLength="58.72" lengthAdjust="spacingAndGlyphs">&#8722;25</text>
<text x="49.14" y="394.40" font-family="'Liberation Sans', sans-serif" font-size="37" fill="#262626" textLength="58.30" lengthAdjust="spacingAndGlyphs">&#8722;30</text>
<text x="1029.53" y="394.40" font-family="'Liberation Sans', sans-serif" font-size="37" fill="#262626" textLength="58.72" lengthAdjust="spacingAndGlyphs">&#8722;30</text>
<text x="49.14" y="516.00" font-family="'Liberation Sans', sans-serif" font-size="37" fill="#262626" textLength="58.30" lengthAdjust="spacingAndGlyphs">&#8722;35</text>
<text x="1029.53" y="516.00" font-family="'Liberation Sans', sans-serif" font-size="37" fill="#262626" textLength="58.72" lengthAdjust="spacingAndGlyphs">&#8722;35</text>
<text x="49.14" y="637.60" font-family="'Liberation Sans', sans-serif" font-size="37" fill="#262626" textLength="58.30" lengthAdjust="spacingAndGlyphs">&#8722;40</text>
<text x="1029.53" y="637.60" font-family="'Liberation Sans', sans-serif" font-size="37" fill="#262626" textLength="58.72" lengthAdjust="spacingAndGlyphs">&#8722;40</text>
</svg>
</body></html>
